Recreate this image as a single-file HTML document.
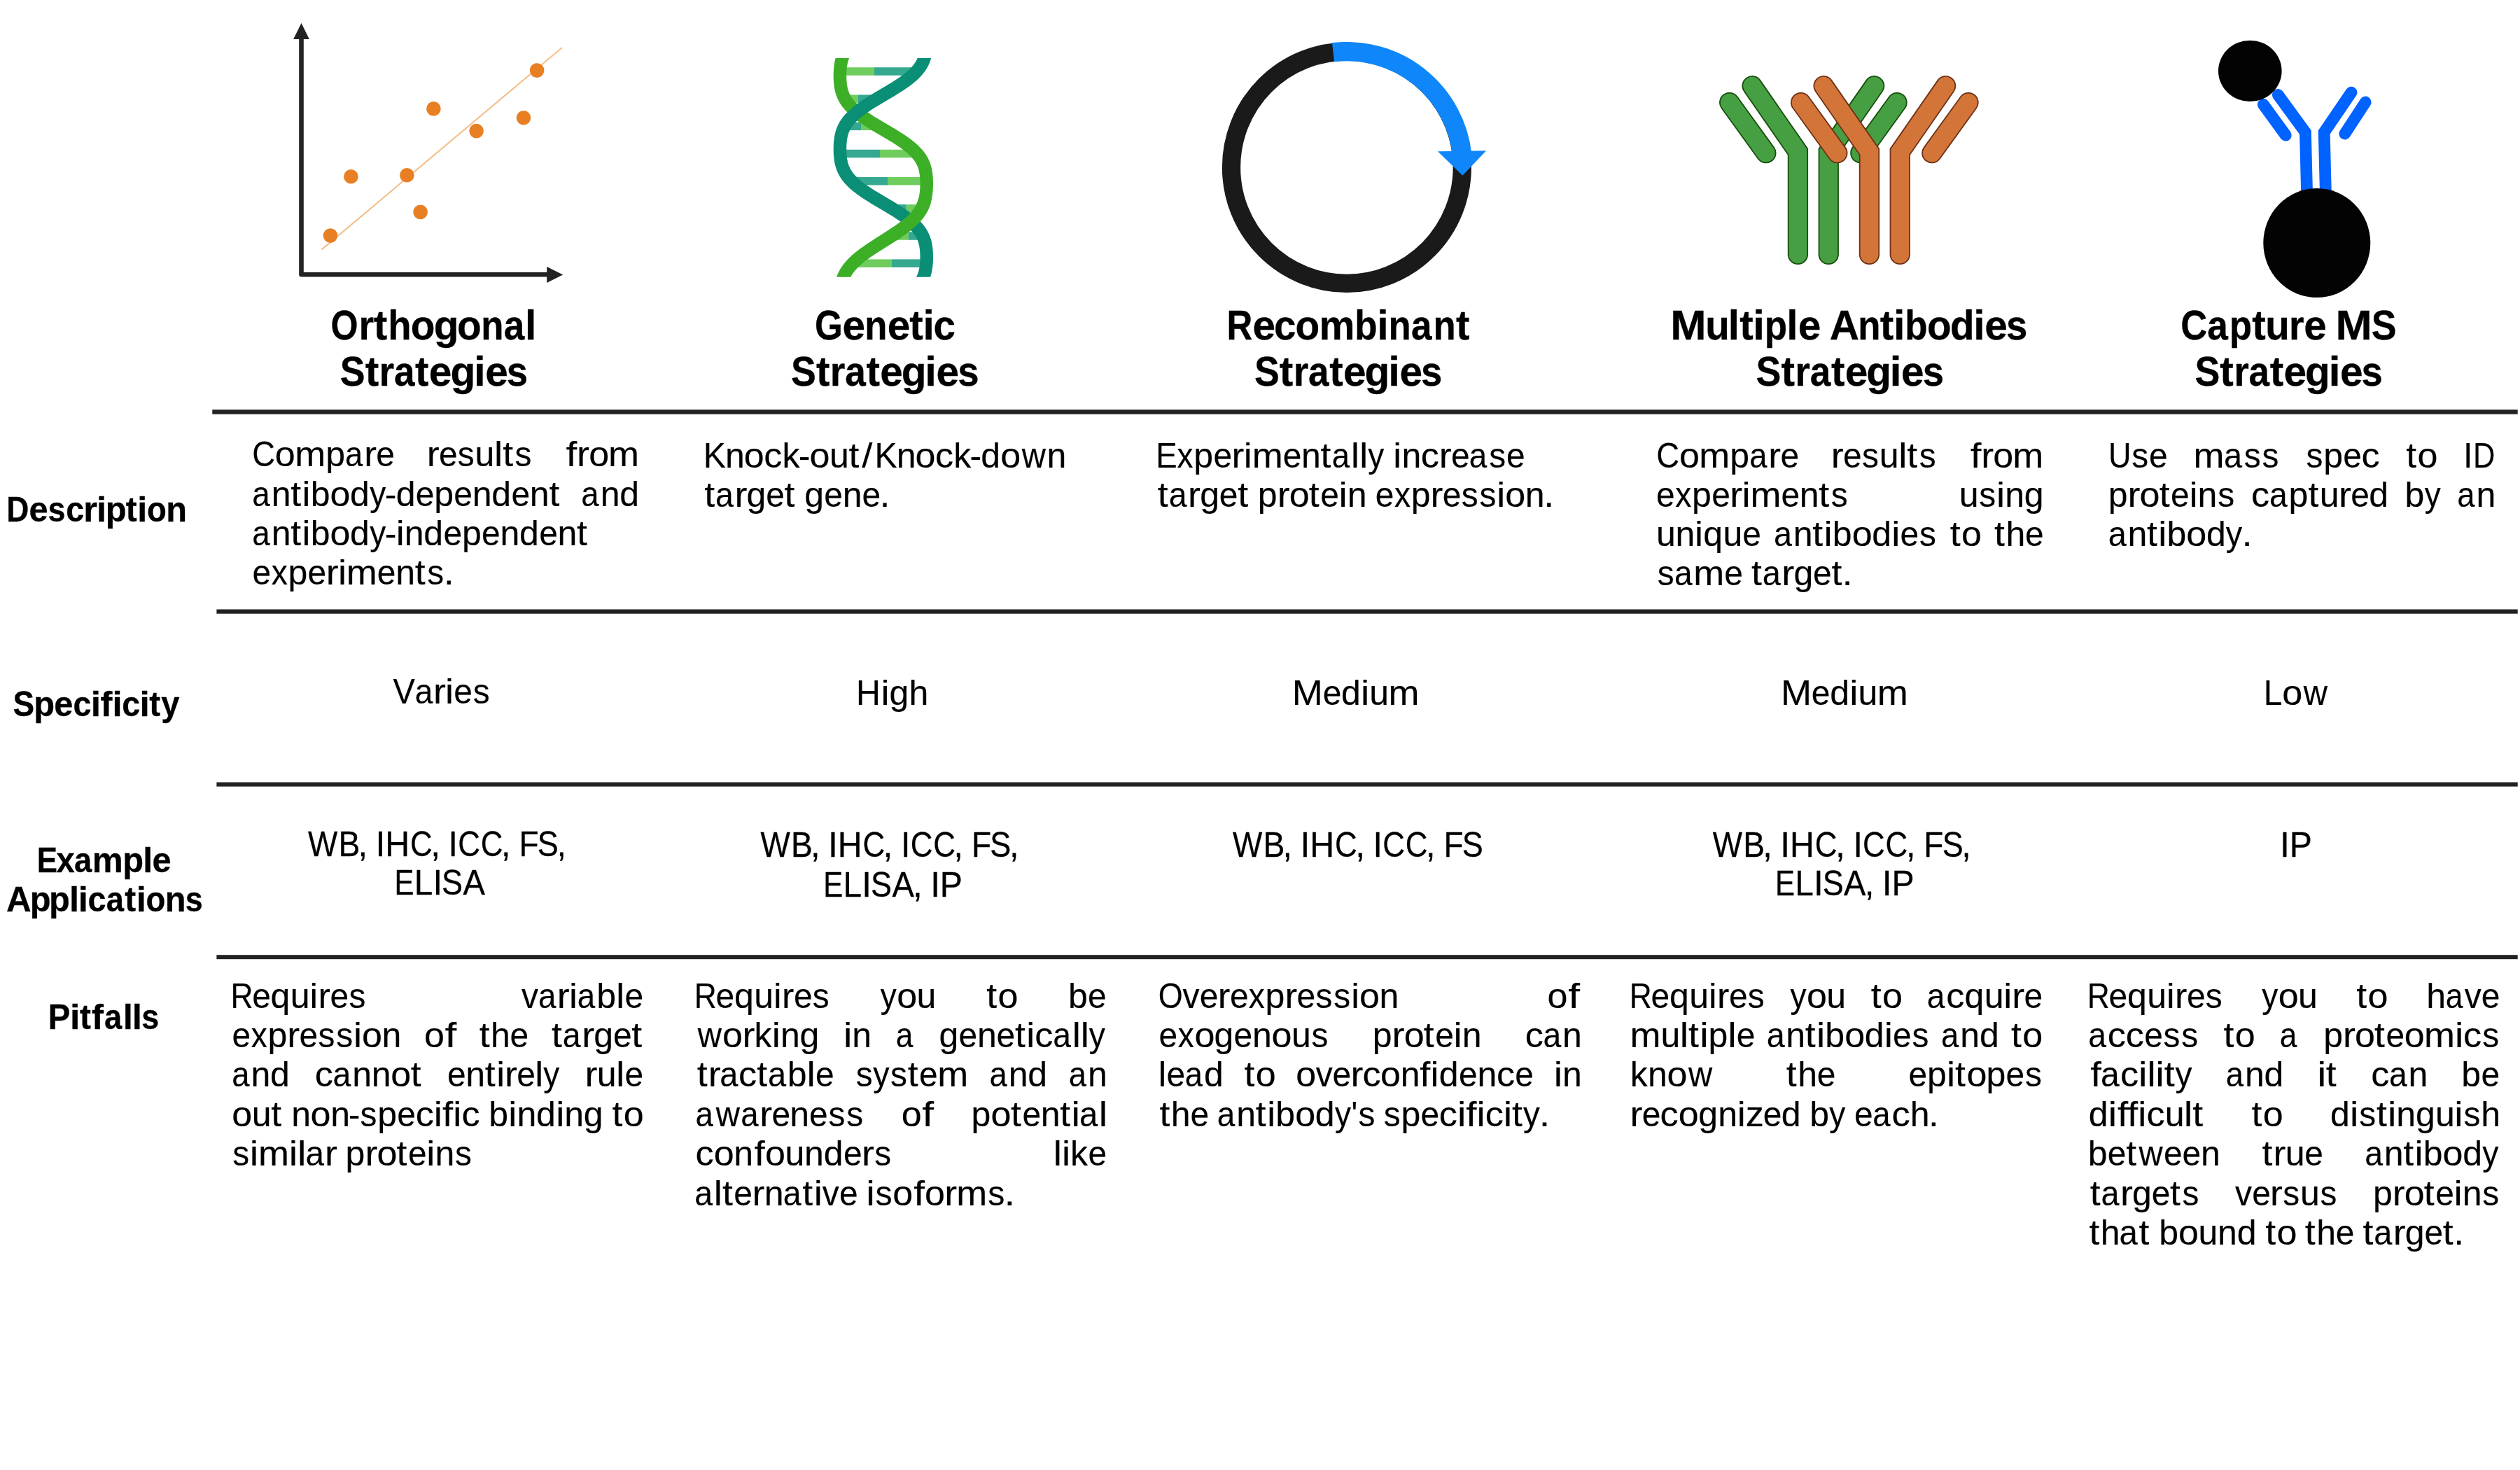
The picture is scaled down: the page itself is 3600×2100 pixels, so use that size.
<!DOCTYPE html>
<html><head><meta charset="utf-8"><title>Antibody validation strategies</title>
<style>
html,body{margin:0;padding:0;background:#fff;}
body{width:3600px;height:2100px;overflow:hidden;}
svg{display:block;will-change:transform;}
text{font-family:"Liberation Sans",sans-serif;fill:#000;}
text.b,text.h{font-weight:bold;}
text.h{stroke:#000;stroke-width:0.3px;}
text.b{stroke:#000;stroke-width:0.3px;}
text.r{stroke:#000;stroke-width:0.15px;}
text.u{stroke:#000;stroke-width:0.3px;}
</style></head>
<body>
<svg width="3600" height="2100" viewBox="0 0 3600 2100">
<rect width="3600" height="2100" fill="#fff"/>
<rect x="303.3" y="585.2" width="3293.4" height="6.5" fill="#222"/>
<rect x="309.4" y="870.5" width="3287.3" height="6.2" fill="#222"/>
<rect x="309.4" y="1117.5" width="3287.3" height="6.1" fill="#222"/>
<rect x="309.4" y="1364.2" width="3287.3" height="6.0" fill="#222"/>
<path d="M430.5,55 L430.5,392.2 L782,392.2" fill="none" stroke="#222" stroke-width="6.6" stroke-linejoin="round"/>
<polygon points="430.5,33 419.1,55.9 441.9,55.9" fill="#222"/>
<polygon points="804.2,392.4 781.2,381 781.2,403.9" fill="#222"/>
<line x1="459.4" y1="356.6" x2="802.9" y2="68" stroke="#F5BE8C" stroke-width="2.1"/>
<circle cx="472" cy="336.6" r="10.3" fill="#E88023"/>
<circle cx="501.4" cy="252.3" r="10.3" fill="#E88023"/>
<circle cx="581.4" cy="250.3" r="10.3" fill="#E88023"/>
<circle cx="600.6" cy="302.9" r="10.3" fill="#E88023"/>
<circle cx="619.4" cy="155.4" r="10.3" fill="#E88023"/>
<circle cx="680.6" cy="187.1" r="10.3" fill="#E88023"/>
<circle cx="748" cy="168.3" r="10.3" fill="#E88023"/>
<circle cx="767.1" cy="100.6" r="10.3" fill="#E88023"/>
<clipPath id="dc"><rect x="1150" y="83" width="220" height="312.8"/></clipPath>
<g clip-path="url(#dc)">
<rect x="1200.09" y="96.25" width="48.91" height="11.5" fill="#6FCD5E"/>
<rect x="1249.00" y="96.25" width="60.24" height="11.5" fill="#35A890"/>
<rect x="1207.01" y="135.42" width="18.49" height="11.5" fill="#6FCD5E"/>
<rect x="1225.50" y="135.42" width="27.20" height="11.5" fill="#35A890"/>
<rect x="1230.00" y="174.59" width="23.95" height="11.5" fill="#6FCD5E"/>
<rect x="1206.66" y="174.59" width="23.34" height="11.5" fill="#35A890"/>
<rect x="1257.00" y="213.76" width="53.01" height="11.5" fill="#6FCD5E"/>
<rect x="1200.12" y="213.76" width="56.88" height="11.5" fill="#35A890"/>
<rect x="1268.10" y="252.93" width="55.61" height="11.5" fill="#6FCD5E"/>
<rect x="1216.52" y="252.93" width="51.58" height="11.5" fill="#35A890"/>
<rect x="1294.70" y="292.10" width="21.83" height="11.5" fill="#6FCD5E"/>
<rect x="1274.61" y="292.10" width="20.09" height="11.5" fill="#35A890"/>
<rect x="1273.63" y="331.27" width="24.27" height="11.5" fill="#6FCD5E"/>
<rect x="1297.90" y="331.27" width="20.25" height="11.5" fill="#35A890"/>
<rect x="1218.44" y="370.44" width="55.56" height="11.5" fill="#6FCD5E"/>
<rect x="1274.00" y="370.44" width="49.44" height="11.5" fill="#35A890"/>
<path d="M1210.02,70.00 L1209.32,71.00 L1208.65,72.00 L1208.02,73.00 L1207.42,74.00 L1206.85,75.00 L1206.31,76.00 L1205.80,77.00 L1205.32,78.00 L1204.87,79.00 L1204.44,80.00 L1204.05,81.00 L1203.67,82.00 L1203.32,83.00 L1203.00,84.00 L1202.69,85.00 L1202.41,86.00 L1202.15,87.00 L1201.90,88.00 L1201.68,89.00 L1201.47,90.00 L1201.29,91.00 L1201.11,92.00 L1200.96,93.00 L1200.81,94.00 L1200.68,95.00 L1200.56,96.00 L1200.46,97.00 L1200.37,98.00 L1200.28,99.00 L1200.21,100.00 L1200.15,101.00 L1200.09,102.00 L1200.05,103.00 L1200.01,104.00 L1199.99,105.00 L1199.97,106.00 L1199.95,107.00 L1199.95,108.00 L1199.95,109.00 L1199.97,110.00 L1199.99,111.00 L1200.01,112.00 L1200.05,113.00 L1200.09,114.00 L1200.15,115.00 L1200.21,116.00 L1200.28,117.00 L1200.37,118.00 L1200.46,119.00 L1200.57,120.00 L1200.69,121.00 L1200.82,122.00 L1200.96,123.00 L1201.12,124.00 L1201.30,125.00 L1201.49,126.00 L1201.69,127.00 L1201.92,128.00 L1202.16,129.00 L1202.43,130.00 L1202.71,131.00 L1203.02,132.00 L1203.35,133.00 L1203.70,134.00 L1204.08,135.00 L1204.48,136.00 L1204.91,137.00 L1205.37,138.00 L1205.85,139.00 L1206.37,140.00 L1206.91,141.00 L1207.49,142.00 L1208.09,143.00 L1208.73,144.00 L1209.40,145.00 L1210.10,146.00 L1210.84,147.00 L1211.61,148.00 L1212.42,149.00 L1213.26,150.00 L1214.14,151.00 L1215.05,152.00 L1216.00,153.00 L1216.98,154.00 L1218.00,155.00 L1219.06,156.00 L1220.15,157.00 L1221.27,158.00 L1222.43,159.00 L1223.63,160.00 L1224.85,161.00 L1226.12,162.00 L1227.41,163.00 L1228.74,164.00 L1230.09,165.00 L1231.48,166.00 L1232.89,167.00 L1234.34,168.00 L1235.81,169.00 L1237.31,170.00 L1238.83,171.00 L1240.37,172.00 L1241.94,173.00 L1243.52,174.00 L1245.13,175.00 L1246.75,176.00 L1248.39,177.00 L1250.04,178.00 L1251.70,179.00 L1253.38,180.00 L1255.06,181.00 L1256.75,182.00 L1258.45,183.00 L1260.15,184.00 L1261.85,185.00 L1263.55,186.00 L1265.25,187.00 L1266.95,188.00 L1268.64,189.00 L1270.32,190.00 L1272.00,191.00 L1273.66,192.00 L1275.31,193.00 L1276.95,194.00 L1278.57,195.00 L1280.18,196.00 L1281.76,197.00 L1283.33,198.00 L1284.87,199.00 L1286.39,200.00 L1287.89,201.00 L1289.36,202.00 L1290.81,203.00 L1292.22,204.00 L1293.61,205.00 L1294.96,206.00 L1296.29,207.00 L1297.58,208.00 L1298.85,209.00 L1300.07,210.00 L1301.27,211.00 L1302.43,212.00 L1303.55,213.00 L1304.64,214.00 L1305.70,215.00 L1306.72,216.00 L1307.70,217.00 L1308.65,218.00 L1309.56,219.00 L1310.44,220.00 L1311.28,221.00 L1312.09,222.00 L1312.86,223.00 L1313.60,224.00 L1314.30,225.00 L1314.97,226.00 L1315.61,227.00 L1316.21,228.00 L1316.79,229.00 L1317.33,230.00 L1317.85,231.00 L1318.33,232.00 L1318.79,233.00 L1319.22,234.00 L1319.62,235.00 L1320.00,236.00 L1320.35,237.00 L1320.68,238.00 L1320.99,239.00 L1321.27,240.00 L1321.54,241.00 L1321.78,242.00 L1322.01,243.00 L1322.21,244.00 L1322.40,245.00 L1322.58,246.00 L1322.74,247.00 L1322.88,248.00 L1323.01,249.00 L1323.13,250.00 L1323.24,251.00 L1323.33,252.00 L1323.42,253.00 L1323.49,254.00 L1323.55,255.00 L1323.61,256.00 L1323.65,257.00 L1323.69,258.00 L1323.71,259.00 L1323.73,260.00 L1323.75,261.00 L1323.75,262.00 L1323.75,263.00 L1323.74,264.00 L1323.72,265.00 L1323.69,266.00 L1323.66,267.00 L1323.62,268.00 L1323.58,269.00 L1323.52,270.00 L1323.46,271.00 L1323.39,272.00 L1323.31,273.00 L1323.22,274.00 L1323.12,275.00 L1323.01,276.00 L1322.88,277.00 L1322.75,278.00 L1322.60,279.00 L1322.44,280.00 L1322.27,281.00 L1322.08,282.00 L1321.87,283.00 L1321.65,284.00 L1321.42,285.00 L1321.16,286.00 L1320.89,287.00 L1320.59,288.00 L1320.28,289.00 L1319.95,290.00 L1319.59,291.00 L1319.22,292.00 L1318.82,293.00 L1318.39,294.00 L1317.95,295.00 L1317.47,296.00 L1316.97,297.00 L1316.45,298.00 L1315.90,299.00 L1315.32,300.00 L1314.71,301.00 L1314.07,302.00 L1313.40,303.00 L1312.71,304.00 L1311.98,305.00 L1311.23,306.00 L1310.44,307.00 L1309.62,308.00 L1308.77,309.00 L1307.89,310.00 L1306.98,311.00 L1306.04,312.00 L1305.07,313.00 L1304.07,314.00 L1303.03,315.00 L1301.97,316.00 L1300.87,317.00 L1299.75,318.00 L1298.60,319.00 L1297.41,320.00 L1296.20,321.00 L1294.96,322.00 L1293.70,323.00 L1292.41,324.00 L1291.09,325.00 L1289.75,326.00 L1288.38,327.00 L1287.00,328.00 L1285.59,329.00 L1284.16,330.00 L1282.71,331.00 L1281.24,332.00 L1279.75,333.00 L1278.25,334.00 L1276.73,335.00 L1275.20,336.00 L1273.66,337.00 L1272.11,338.00 L1270.55,339.00 L1268.98,340.00 L1267.40,341.00 L1265.82,342.00 L1264.23,343.00 L1262.64,344.00 L1261.06,345.00 L1259.47,346.00 L1257.88,347.00 L1256.30,348.00 L1254.72,349.00 L1253.15,350.00 L1251.59,351.00 L1250.04,352.00 L1248.50,353.00 L1246.97,354.00 L1245.45,355.00 L1243.95,356.00 L1242.46,357.00 L1240.99,358.00 L1239.54,359.00 L1238.11,360.00 L1236.70,361.00 L1235.32,362.00 L1233.95,363.00 L1232.61,364.00 L1231.29,365.00 L1230.00,366.00 L1228.74,367.00 L1227.50,368.00 L1226.29,369.00 L1225.10,370.00 L1223.95,371.00 L1222.83,372.00 L1221.73,373.00 L1220.67,374.00 L1219.63,375.00 L1218.63,376.00 L1217.66,377.00 L1216.72,378.00 L1215.81,379.00 L1214.93,380.00 L1214.08,381.00 L1213.26,382.00 L1212.47,383.00 L1211.72,384.00 L1210.99,385.00 L1210.30,386.00 L1209.63,387.00 L1208.99,388.00 L1208.38,389.00 L1207.80,390.00 L1207.25,391.00 L1206.73,392.00 L1206.23,393.00 L1205.75,394.00 L1205.31,395.00 L1204.88,396.00 L1204.48,397.00 L1204.11,398.00 L1203.75,399.00 L1203.42,400.00 L1203.11,401.00 L1202.81,402.00 L1202.54,403.00 L1202.28,404.00 L1202.05,405.00 L1201.83,406.00 L1201.62,407.00 L1201.43,408.00 L1201.26,409.00 L1201.10,410.00" fill="none" stroke="#3CAF27" stroke-width="18.5"/>
<path d="M1323.19,70.00 L1323.08,71.00 L1322.96,72.00 L1322.82,73.00 L1322.67,74.00 L1322.50,75.00 L1322.32,76.00 L1322.12,77.00 L1321.91,78.00 L1321.68,79.00 L1321.42,80.00 L1321.15,81.00 L1320.86,82.00 L1320.54,83.00 L1320.21,84.00 L1319.84,85.00 L1319.46,86.00 L1319.05,87.00 L1318.61,88.00 L1318.14,89.00 L1317.65,90.00 L1317.12,91.00 L1316.57,92.00 L1315.98,93.00 L1315.37,94.00 L1314.72,95.00 L1314.04,96.00 L1313.32,97.00 L1312.58,98.00 L1311.79,99.00 L1310.98,100.00 L1310.13,101.00 L1309.24,102.00 L1308.32,103.00 L1307.36,104.00 L1306.37,105.00 L1305.34,106.00 L1304.27,107.00 L1303.18,108.00 L1302.04,109.00 L1300.87,110.00 L1299.67,111.00 L1298.44,112.00 L1297.17,113.00 L1295.87,114.00 L1294.54,115.00 L1293.18,116.00 L1291.78,117.00 L1290.36,118.00 L1288.92,119.00 L1287.44,120.00 L1285.94,121.00 L1284.42,122.00 L1282.88,123.00 L1281.31,124.00 L1279.72,125.00 L1278.12,126.00 L1276.50,127.00 L1274.86,128.00 L1273.21,129.00 L1271.55,130.00 L1269.88,131.00 L1268.20,132.00 L1266.51,133.00 L1264.82,134.00 L1263.12,135.00 L1261.43,136.00 L1259.73,137.00 L1258.04,138.00 L1256.35,139.00 L1254.66,140.00 L1252.99,141.00 L1251.32,142.00 L1249.66,143.00 L1248.02,144.00 L1246.39,145.00 L1244.78,146.00 L1243.18,147.00 L1241.61,148.00 L1240.05,149.00 L1238.51,150.00 L1237.00,151.00 L1235.52,152.00 L1234.06,153.00 L1232.62,154.00 L1231.22,155.00 L1229.84,156.00 L1228.49,157.00 L1227.18,158.00 L1225.89,159.00 L1224.64,160.00 L1223.42,161.00 L1222.24,162.00 L1221.09,163.00 L1219.97,164.00 L1218.89,165.00 L1217.84,166.00 L1216.83,167.00 L1215.86,168.00 L1214.92,169.00 L1214.01,170.00 L1213.14,171.00 L1212.31,172.00 L1211.51,173.00 L1210.75,174.00 L1210.02,175.00 L1209.32,176.00 L1208.65,177.00 L1208.02,178.00 L1207.42,179.00 L1206.85,180.00 L1206.31,181.00 L1205.80,182.00 L1205.32,183.00 L1204.87,184.00 L1204.44,185.00 L1204.05,186.00 L1203.67,187.00 L1203.32,188.00 L1203.00,189.00 L1202.69,190.00 L1202.41,191.00 L1202.15,192.00 L1201.90,193.00 L1201.68,194.00 L1201.47,195.00 L1201.29,196.00 L1201.11,197.00 L1200.96,198.00 L1200.81,199.00 L1200.68,200.00 L1200.56,201.00 L1200.46,202.00 L1200.37,203.00 L1200.28,204.00 L1200.21,205.00 L1200.15,206.00 L1200.09,207.00 L1200.05,208.00 L1200.01,209.00 L1199.99,210.00 L1199.97,211.00 L1199.95,212.00 L1199.95,213.00 L1199.95,214.00 L1199.97,215.00 L1199.99,216.00 L1200.01,217.00 L1200.05,218.00 L1200.09,219.00 L1200.15,220.00 L1200.21,221.00 L1200.28,222.00 L1200.37,223.00 L1200.46,224.00 L1200.56,225.00 L1200.68,226.00 L1200.81,227.00 L1200.96,228.00 L1201.11,229.00 L1201.29,230.00 L1201.47,231.00 L1201.68,232.00 L1201.90,233.00 L1202.15,234.00 L1202.41,235.00 L1202.69,236.00 L1203.00,237.00 L1203.32,238.00 L1203.67,239.00 L1204.05,240.00 L1204.44,241.00 L1204.87,242.00 L1205.32,243.00 L1205.80,244.00 L1206.31,245.00 L1206.85,246.00 L1207.42,247.00 L1208.02,248.00 L1208.65,249.00 L1209.32,250.00 L1210.02,251.00 L1210.75,252.00 L1211.51,253.00 L1212.31,254.00 L1213.14,255.00 L1214.01,256.00 L1214.92,257.00 L1215.86,258.00 L1216.83,259.00 L1217.84,260.00 L1218.89,261.00 L1219.97,262.00 L1221.09,263.00 L1222.24,264.00 L1223.42,265.00 L1224.64,266.00 L1225.89,267.00 L1227.18,268.00 L1228.49,269.00 L1229.84,270.00 L1231.22,271.00 L1232.62,272.00 L1234.06,273.00 L1235.52,274.00 L1237.00,275.00 L1238.51,276.00 L1240.05,277.00 L1241.61,278.00 L1243.18,279.00 L1244.78,280.00 L1246.39,281.00 L1248.02,282.00 L1249.66,283.00 L1251.32,284.00 L1252.99,285.00 L1254.66,286.00 L1256.35,287.00 L1258.04,288.00 L1259.73,289.00 L1261.43,290.00 L1263.12,291.00 L1264.82,292.00 L1266.51,293.00 L1268.20,294.00 L1269.88,295.00 L1271.55,296.00 L1273.21,297.00 L1274.86,298.00 L1276.50,299.00 L1278.12,300.00 L1279.72,301.00 L1281.31,302.00 L1282.88,303.00 L1284.42,304.00 L1285.94,305.00 L1287.44,306.00 L1288.92,307.00 L1290.36,308.00 L1291.78,309.00 L1293.18,310.00 L1294.54,311.00 L1295.87,312.00 L1297.17,313.00 L1298.44,314.00 L1299.67,315.00 L1300.87,316.00 L1302.04,317.00 L1303.18,318.00 L1304.27,319.00 L1305.34,320.00 L1306.37,321.00 L1307.36,322.00 L1308.32,323.00 L1309.24,324.00 L1310.13,325.00 L1310.98,326.00 L1311.79,327.00 L1312.58,328.00 L1313.32,329.00 L1314.04,330.00 L1314.72,331.00 L1315.37,332.00 L1315.98,333.00 L1316.57,334.00 L1317.12,335.00 L1317.65,336.00 L1318.14,337.00 L1318.61,338.00 L1319.05,339.00 L1319.46,340.00 L1319.84,341.00 L1320.21,342.00 L1320.54,343.00 L1320.86,344.00 L1321.15,345.00 L1321.42,346.00 L1321.68,347.00 L1321.91,348.00 L1322.12,349.00 L1322.32,350.00 L1322.50,351.00 L1322.67,352.00 L1322.82,353.00 L1322.96,354.00 L1323.08,355.00 L1323.19,356.00 L1323.29,357.00 L1323.38,358.00 L1323.46,359.00 L1323.52,360.00 L1323.58,361.00 L1323.63,362.00 L1323.67,363.00 L1323.70,364.00 L1323.73,365.00 L1323.74,366.00 L1323.75,367.00 L1323.75,368.00 L1323.74,369.00 L1323.73,370.00 L1323.70,371.00 L1323.67,372.00 L1323.63,373.00 L1323.58,374.00 L1323.52,375.00 L1323.46,376.00 L1323.38,377.00 L1323.29,378.00 L1323.19,379.00 L1323.08,380.00 L1322.96,381.00 L1322.82,382.00 L1322.67,383.00 L1322.50,384.00 L1322.32,385.00 L1322.12,386.00 L1321.91,387.00 L1321.68,388.00 L1321.42,389.00 L1321.15,390.00 L1320.86,391.00 L1320.54,392.00 L1320.21,393.00 L1319.84,394.00 L1319.46,395.00 L1319.05,396.00 L1318.61,397.00 L1318.14,398.00 L1317.65,399.00 L1317.12,400.00 L1316.57,401.00 L1315.98,402.00 L1315.37,403.00 L1314.72,404.00 L1314.04,405.00 L1313.32,406.00 L1312.58,407.00 L1311.79,408.00 L1310.98,409.00 L1310.13,410.00" fill="none" stroke="#0A8E75" stroke-width="18.5"/>
<path d="M1321.42,285.00 L1321.16,286.00 L1320.89,287.00 L1320.59,288.00 L1320.28,289.00 L1319.95,290.00 L1319.59,291.00 L1319.22,292.00 L1318.82,293.00 L1318.39,294.00 L1317.95,295.00 L1317.47,296.00 L1316.97,297.00 L1316.45,298.00 L1315.90,299.00 L1315.32,300.00 L1314.71,301.00 L1314.07,302.00 L1313.40,303.00 L1312.71,304.00 L1311.98,305.00 L1311.23,306.00 L1310.44,307.00 L1309.62,308.00 L1308.77,309.00 L1307.89,310.00 L1306.98,311.00 L1306.04,312.00 L1305.07,313.00 L1304.07,314.00 L1303.03,315.00 L1301.97,316.00 L1300.87,317.00 L1299.75,318.00 L1298.60,319.00 L1297.41,320.00 L1296.20,321.00 L1294.96,322.00 L1293.70,323.00 L1292.41,324.00 L1291.09,325.00 L1289.75,326.00 L1288.38,327.00 L1287.00,328.00 L1285.59,329.00 L1284.16,330.00 L1282.71,331.00 L1281.24,332.00 L1279.75,333.00 L1278.25,334.00 L1276.73,335.00 L1275.20,336.00 L1273.66,337.00 L1272.11,338.00 L1270.55,339.00 L1268.98,340.00 L1267.40,341.00 L1265.82,342.00 L1264.23,343.00 L1262.64,344.00 L1261.06,345.00 L1259.47,346.00 L1257.88,347.00 L1256.30,348.00 L1254.72,349.00 L1253.15,350.00" fill="none" stroke="#3CAF27" stroke-width="18.5"/>
</g>
<ellipse cx="1923.9" cy="239.2" rx="164.9" ry="165.6" fill="none" stroke="#1A1A1A" stroke-width="26.3"/>
<path d="M1904.56,74.73 A165.80,165.6 0 0 1 2088.79,221.89" fill="none" stroke="#0F87FA" stroke-width="27.4"/>
<polygon points="2053.9,216.2 2123.2,215.3 2089.4,250.7" fill="#0F87FA"/>
<path d="M2568.45,363.4 L2568.45,216.9 L2503.10,122.7" fill="none" stroke="#174F0C" stroke-width="29.3" stroke-linecap="round" stroke-linejoin="miter"/>
<path d="M2568.45,363.4 L2568.45,216.9 L2503.10,122.7" fill="none" stroke="#46A043" stroke-width="25.7" stroke-linecap="round" stroke-linejoin="miter"/>
<path d="M2612.25,363.4 L2612.25,216.9 L2677.60,122.7" fill="none" stroke="#174F0C" stroke-width="29.3" stroke-linecap="round" stroke-linejoin="miter"/>
<path d="M2612.25,363.4 L2612.25,216.9 L2677.60,122.7" fill="none" stroke="#46A043" stroke-width="25.7" stroke-linecap="round" stroke-linejoin="miter"/>
<path d="M2470.70,146.5 L2522.85,218.7" fill="none" stroke="#174F0C" stroke-width="29.3" stroke-linecap="round" stroke-linejoin="miter"/>
<path d="M2470.70,146.5 L2522.85,218.7" fill="none" stroke="#46A043" stroke-width="25.7" stroke-linecap="round" stroke-linejoin="miter"/>
<path d="M2710.00,146.5 L2657.85,218.7" fill="none" stroke="#174F0C" stroke-width="29.3" stroke-linecap="round" stroke-linejoin="miter"/>
<path d="M2710.00,146.5 L2657.85,218.7" fill="none" stroke="#46A043" stroke-width="25.7" stroke-linecap="round" stroke-linejoin="miter"/>
<path d="M2670.45,363.4 L2670.45,216.9 L2605.10,122.7" fill="none" stroke="#6E3218" stroke-width="29.3" stroke-linecap="round" stroke-linejoin="miter"/>
<path d="M2670.45,363.4 L2670.45,216.9 L2605.10,122.7" fill="none" stroke="#D37539" stroke-width="25.7" stroke-linecap="round" stroke-linejoin="miter"/>
<path d="M2714.25,363.4 L2714.25,216.9 L2779.60,122.7" fill="none" stroke="#6E3218" stroke-width="29.3" stroke-linecap="round" stroke-linejoin="miter"/>
<path d="M2714.25,363.4 L2714.25,216.9 L2779.60,122.7" fill="none" stroke="#D37539" stroke-width="25.7" stroke-linecap="round" stroke-linejoin="miter"/>
<path d="M2572.70,146.5 L2624.85,218.7" fill="none" stroke="#6E3218" stroke-width="29.3" stroke-linecap="round" stroke-linejoin="miter"/>
<path d="M2572.70,146.5 L2624.85,218.7" fill="none" stroke="#D37539" stroke-width="25.7" stroke-linecap="round" stroke-linejoin="miter"/>
<path d="M2812.00,146.5 L2759.85,218.7" fill="none" stroke="#6E3218" stroke-width="29.3" stroke-linecap="round" stroke-linejoin="miter"/>
<path d="M2812.00,146.5 L2759.85,218.7" fill="none" stroke="#D37539" stroke-width="25.7" stroke-linecap="round" stroke-linejoin="miter"/>
<path d="M3296.2,300 L3293.4,189 L3254.3,135.5" fill="none" stroke="#0062FF" stroke-width="16.8" stroke-linecap="round" stroke-linejoin="miter"/>
<path d="M3323,300 L3320.2,189 L3359,132.1" fill="none" stroke="#0062FF" stroke-width="16.8" stroke-linecap="round" stroke-linejoin="miter"/>
<path d="M3233.3,149.2 L3265.3,193.2" fill="none" stroke="#0062FF" stroke-width="16.8" stroke-linecap="round"/>
<path d="M3379.2,146 L3349.8,191" fill="none" stroke="#0062FF" stroke-width="16.8" stroke-linecap="round"/>
<ellipse cx="3214.3" cy="101.4" rx="45.3" ry="43.6" fill="#030303"/>
<ellipse cx="3309.8" cy="347.1" rx="76.5" ry="78" fill="#030303"/>
<text class="h" y="484.90" style="font-size:58.6px"><tspan x="472.49" textLength="39.07" lengthAdjust="spacingAndGlyphs">O</tspan><tspan x="512.62" textLength="21.60" lengthAdjust="spacingAndGlyphs">r</tspan><tspan x="533.84" textLength="19.51" lengthAdjust="spacingAndGlyphs">t</tspan><tspan x="554.30" textLength="33.32" lengthAdjust="spacingAndGlyphs">h</tspan><tspan x="586.79" textLength="34.67" lengthAdjust="spacingAndGlyphs">o</tspan><tspan x="619.69" textLength="35.79" lengthAdjust="spacingAndGlyphs">g</tspan><tspan x="653.11" textLength="34.67" lengthAdjust="spacingAndGlyphs">o</tspan><tspan x="687.30" textLength="32.21" lengthAdjust="spacingAndGlyphs">n</tspan><tspan x="719.83" textLength="29.53" lengthAdjust="spacingAndGlyphs">a</tspan><tspan x="749.98" textLength="16.28" lengthAdjust="spacingAndGlyphs">l</tspan></text>
<text class="h" y="550.60" style="font-size:58.6px"><tspan x="485.78" textLength="35.82" lengthAdjust="spacingAndGlyphs">S</tspan><tspan x="521.65" textLength="19.51" lengthAdjust="spacingAndGlyphs">t</tspan><tspan x="541.57" textLength="21.60" lengthAdjust="spacingAndGlyphs">r</tspan><tspan x="562.89" textLength="29.53" lengthAdjust="spacingAndGlyphs">a</tspan><tspan x="593.09" textLength="19.51" lengthAdjust="spacingAndGlyphs">t</tspan><tspan x="612.85" textLength="32.59" lengthAdjust="spacingAndGlyphs">e</tspan><tspan x="643.39" textLength="35.79" lengthAdjust="spacingAndGlyphs">g</tspan><tspan x="677.04" textLength="16.66" lengthAdjust="spacingAndGlyphs">i</tspan><tspan x="693.20" textLength="32.59" lengthAdjust="spacingAndGlyphs">e</tspan><tspan x="723.87" textLength="30.34" lengthAdjust="spacingAndGlyphs">s</tspan></text>
<text class="h" y="484.90" style="font-size:58.6px"><tspan x="1163.95" textLength="39.88" lengthAdjust="spacingAndGlyphs">G</tspan><tspan x="1203.50" textLength="32.59" lengthAdjust="spacingAndGlyphs">e</tspan><tspan x="1235.33" textLength="32.21" lengthAdjust="spacingAndGlyphs">n</tspan><tspan x="1267.77" textLength="32.59" lengthAdjust="spacingAndGlyphs">e</tspan><tspan x="1299.30" textLength="19.51" lengthAdjust="spacingAndGlyphs">t</tspan><tspan x="1318.46" textLength="16.46" lengthAdjust="spacingAndGlyphs">i</tspan><tspan x="1333.58" textLength="31.46" lengthAdjust="spacingAndGlyphs">c</tspan></text>
<text class="h" y="550.60" style="font-size:58.6px"><tspan x="1130.08" textLength="35.82" lengthAdjust="spacingAndGlyphs">S</tspan><tspan x="1165.95" textLength="19.51" lengthAdjust="spacingAndGlyphs">t</tspan><tspan x="1185.87" textLength="21.60" lengthAdjust="spacingAndGlyphs">r</tspan><tspan x="1207.19" textLength="29.53" lengthAdjust="spacingAndGlyphs">a</tspan><tspan x="1237.39" textLength="19.51" lengthAdjust="spacingAndGlyphs">t</tspan><tspan x="1257.15" textLength="32.59" lengthAdjust="spacingAndGlyphs">e</tspan><tspan x="1287.69" textLength="35.79" lengthAdjust="spacingAndGlyphs">g</tspan><tspan x="1321.34" textLength="16.66" lengthAdjust="spacingAndGlyphs">i</tspan><tspan x="1337.50" textLength="32.59" lengthAdjust="spacingAndGlyphs">e</tspan><tspan x="1368.17" textLength="30.34" lengthAdjust="spacingAndGlyphs">s</tspan></text>
<text class="h" y="484.90" style="font-size:58.6px"><tspan x="1752.48" textLength="36.89" lengthAdjust="spacingAndGlyphs">R</tspan><tspan x="1789.51" textLength="32.59" lengthAdjust="spacingAndGlyphs">e</tspan><tspan x="1820.11" textLength="31.46" lengthAdjust="spacingAndGlyphs">c</tspan><tspan x="1850.52" textLength="34.67" lengthAdjust="spacingAndGlyphs">o</tspan><tspan x="1884.48" textLength="50.97" lengthAdjust="spacingAndGlyphs">m</tspan><tspan x="1935.29" textLength="32.33" lengthAdjust="spacingAndGlyphs">b</tspan><tspan x="1967.26" textLength="16.45" lengthAdjust="spacingAndGlyphs">i</tspan><tspan x="1983.60" textLength="32.21" lengthAdjust="spacingAndGlyphs">n</tspan><tspan x="2016.12" textLength="29.53" lengthAdjust="spacingAndGlyphs">a</tspan><tspan x="2047.57" textLength="32.21" lengthAdjust="spacingAndGlyphs">n</tspan><tspan x="2080.01" textLength="19.51" lengthAdjust="spacingAndGlyphs">t</tspan></text>
<text class="h" y="550.60" style="font-size:58.6px"><tspan x="1791.98" textLength="35.82" lengthAdjust="spacingAndGlyphs">S</tspan><tspan x="1827.85" textLength="19.51" lengthAdjust="spacingAndGlyphs">t</tspan><tspan x="1847.77" textLength="21.60" lengthAdjust="spacingAndGlyphs">r</tspan><tspan x="1869.09" textLength="29.53" lengthAdjust="spacingAndGlyphs">a</tspan><tspan x="1899.29" textLength="19.51" lengthAdjust="spacingAndGlyphs">t</tspan><tspan x="1919.05" textLength="32.59" lengthAdjust="spacingAndGlyphs">e</tspan><tspan x="1949.59" textLength="35.79" lengthAdjust="spacingAndGlyphs">g</tspan><tspan x="1983.24" textLength="16.66" lengthAdjust="spacingAndGlyphs">i</tspan><tspan x="1999.40" textLength="32.59" lengthAdjust="spacingAndGlyphs">e</tspan><tspan x="2030.07" textLength="30.34" lengthAdjust="spacingAndGlyphs">s</tspan></text>
<text class="h" y="484.90" style="font-size:58.6px"><tspan x="2386.29" textLength="51.26" lengthAdjust="spacingAndGlyphs">M</tspan><tspan x="2436.22" textLength="34.56" lengthAdjust="spacingAndGlyphs">u</tspan><tspan x="2468.82" textLength="16.28" lengthAdjust="spacingAndGlyphs">l</tspan><tspan x="2485.28" textLength="19.51" lengthAdjust="spacingAndGlyphs">t</tspan><tspan x="2504.11" textLength="17.10" lengthAdjust="spacingAndGlyphs">i</tspan><tspan x="2520.78" textLength="32.33" lengthAdjust="spacingAndGlyphs">p</tspan><tspan x="2552.33" textLength="16.28" lengthAdjust="spacingAndGlyphs">l</tspan><tspan x="2568.78" textLength="32.59" lengthAdjust="spacingAndGlyphs">e</tspan> <tspan x="2613.83" textLength="42.31" lengthAdjust="spacingAndGlyphs">A</tspan><tspan x="2654.36" textLength="32.21" lengthAdjust="spacingAndGlyphs">n</tspan><tspan x="2685.86" textLength="19.51" lengthAdjust="spacingAndGlyphs">t</tspan><tspan x="2705.06" textLength="16.40" lengthAdjust="spacingAndGlyphs">i</tspan><tspan x="2721.37" textLength="32.33" lengthAdjust="spacingAndGlyphs">b</tspan><tspan x="2752.98" textLength="34.67" lengthAdjust="spacingAndGlyphs">o</tspan><tspan x="2785.95" textLength="34.60" lengthAdjust="spacingAndGlyphs">d</tspan><tspan x="2819.19" textLength="16.40" lengthAdjust="spacingAndGlyphs">i</tspan><tspan x="2835.20" textLength="32.59" lengthAdjust="spacingAndGlyphs">e</tspan><tspan x="2865.88" textLength="30.34" lengthAdjust="spacingAndGlyphs">s</tspan></text>
<text class="h" y="550.60" style="font-size:58.6px"><tspan x="2508.58" textLength="35.82" lengthAdjust="spacingAndGlyphs">S</tspan><tspan x="2544.45" textLength="19.51" lengthAdjust="spacingAndGlyphs">t</tspan><tspan x="2564.37" textLength="21.60" lengthAdjust="spacingAndGlyphs">r</tspan><tspan x="2585.69" textLength="29.53" lengthAdjust="spacingAndGlyphs">a</tspan><tspan x="2615.89" textLength="19.51" lengthAdjust="spacingAndGlyphs">t</tspan><tspan x="2635.65" textLength="32.59" lengthAdjust="spacingAndGlyphs">e</tspan><tspan x="2666.19" textLength="35.79" lengthAdjust="spacingAndGlyphs">g</tspan><tspan x="2699.84" textLength="16.66" lengthAdjust="spacingAndGlyphs">i</tspan><tspan x="2716.00" textLength="32.59" lengthAdjust="spacingAndGlyphs">e</tspan><tspan x="2746.67" textLength="30.34" lengthAdjust="spacingAndGlyphs">s</tspan></text>
<text class="h" y="484.90" style="font-size:58.6px"><tspan x="3115.21" textLength="37.97" lengthAdjust="spacingAndGlyphs">C</tspan><tspan x="3153.30" textLength="29.53" lengthAdjust="spacingAndGlyphs">a</tspan><tspan x="3184.74" textLength="32.33" lengthAdjust="spacingAndGlyphs">p</tspan><tspan x="3217.30" textLength="19.51" lengthAdjust="spacingAndGlyphs">t</tspan><tspan x="3236.16" textLength="34.56" lengthAdjust="spacingAndGlyphs">u</tspan><tspan x="3269.92" textLength="21.60" lengthAdjust="spacingAndGlyphs">r</tspan><tspan x="3291.14" textLength="32.59" lengthAdjust="spacingAndGlyphs">e</tspan> <tspan x="3336.44" textLength="52.28" lengthAdjust="spacingAndGlyphs">M</tspan><tspan x="3387.85" textLength="35.82" lengthAdjust="spacingAndGlyphs">S</tspan></text>
<text class="h" y="550.60" style="font-size:58.6px"><tspan x="3135.48" textLength="35.82" lengthAdjust="spacingAndGlyphs">S</tspan><tspan x="3171.35" textLength="19.51" lengthAdjust="spacingAndGlyphs">t</tspan><tspan x="3191.27" textLength="21.60" lengthAdjust="spacingAndGlyphs">r</tspan><tspan x="3212.59" textLength="29.53" lengthAdjust="spacingAndGlyphs">a</tspan><tspan x="3242.79" textLength="19.51" lengthAdjust="spacingAndGlyphs">t</tspan><tspan x="3262.55" textLength="32.59" lengthAdjust="spacingAndGlyphs">e</tspan><tspan x="3293.09" textLength="35.79" lengthAdjust="spacingAndGlyphs">g</tspan><tspan x="3326.74" textLength="16.66" lengthAdjust="spacingAndGlyphs">i</tspan><tspan x="3342.90" textLength="32.59" lengthAdjust="spacingAndGlyphs">e</tspan><tspan x="3373.57" textLength="30.34" lengthAdjust="spacingAndGlyphs">s</tspan></text>
<text class="b" y="744.80" style="font-size:50.8px"><tspan x="9.27" textLength="32.10" lengthAdjust="spacingAndGlyphs">D</tspan><tspan x="41.43" textLength="27.16" lengthAdjust="spacingAndGlyphs">e</tspan><tspan x="68.51" textLength="24.99" lengthAdjust="spacingAndGlyphs">s</tspan><tspan x="94.16" textLength="26.08" lengthAdjust="spacingAndGlyphs">c</tspan><tspan x="119.17" textLength="19.70" lengthAdjust="spacingAndGlyphs">r</tspan><tspan x="137.97" textLength="14.06" lengthAdjust="spacingAndGlyphs">i</tspan><tspan x="150.79" textLength="29.84" lengthAdjust="spacingAndGlyphs">p</tspan><tspan x="179.80" textLength="15.92" lengthAdjust="spacingAndGlyphs">t</tspan><tspan x="196.24" textLength="14.06" lengthAdjust="spacingAndGlyphs">i</tspan><tspan x="210.05" textLength="27.82" lengthAdjust="spacingAndGlyphs">o</tspan><tspan x="237.29" textLength="29.79" lengthAdjust="spacingAndGlyphs">n</tspan></text>
<text class="b" y="1023.40" style="font-size:50.8px"><tspan x="18.50" textLength="30.60" lengthAdjust="spacingAndGlyphs">S</tspan><tspan x="48.30" textLength="29.84" lengthAdjust="spacingAndGlyphs">p</tspan><tspan x="77.35" textLength="27.16" lengthAdjust="spacingAndGlyphs">e</tspan><tspan x="104.39" textLength="26.08" lengthAdjust="spacingAndGlyphs">c</tspan><tspan x="129.78" textLength="14.28" lengthAdjust="spacingAndGlyphs">i</tspan><tspan x="143.60" textLength="31.12" lengthAdjust="spacingAndGlyphs">fi</tspan><tspan x="174.17" textLength="26.08" lengthAdjust="spacingAndGlyphs">c</tspan><tspan x="199.56" textLength="14.28" lengthAdjust="spacingAndGlyphs">i</tspan><tspan x="213.37" textLength="15.92" lengthAdjust="spacingAndGlyphs">t</tspan><tspan x="230.29" textLength="26.23" lengthAdjust="spacingAndGlyphs">y</tspan></text>
<text class="b" y="1245.70" style="font-size:50.8px"><tspan x="52.81" textLength="29.21" lengthAdjust="spacingAndGlyphs">E</tspan><tspan x="80.53" textLength="26.23" lengthAdjust="spacingAndGlyphs">x</tspan><tspan x="106.07" textLength="25.22" lengthAdjust="spacingAndGlyphs">a</tspan><tspan x="131.80" textLength="44.04" lengthAdjust="spacingAndGlyphs">m</tspan><tspan x="175.15" textLength="29.84" lengthAdjust="spacingAndGlyphs">p</tspan><tspan x="204.21" textLength="14.00" lengthAdjust="spacingAndGlyphs">l</tspan><tspan x="217.43" textLength="27.16" lengthAdjust="spacingAndGlyphs">e</tspan></text>
<text class="b" y="1302.10" style="font-size:50.8px"><tspan x="9.03" textLength="35.64" lengthAdjust="spacingAndGlyphs">A</tspan><tspan x="42.71" textLength="29.84" lengthAdjust="spacingAndGlyphs">p</tspan><tspan x="70.04" textLength="29.84" lengthAdjust="spacingAndGlyphs">p</tspan><tspan x="99.09" textLength="14.04" lengthAdjust="spacingAndGlyphs">l</tspan><tspan x="111.82" textLength="14.04" lengthAdjust="spacingAndGlyphs">i</tspan><tspan x="125.59" textLength="26.08" lengthAdjust="spacingAndGlyphs">c</tspan><tspan x="151.67" textLength="25.22" lengthAdjust="spacingAndGlyphs">a</tspan><tspan x="178.32" textLength="15.92" lengthAdjust="spacingAndGlyphs">t</tspan><tspan x="194.78" textLength="14.04" lengthAdjust="spacingAndGlyphs">i</tspan><tspan x="208.58" textLength="27.82" lengthAdjust="spacingAndGlyphs">o</tspan><tspan x="235.82" textLength="29.79" lengthAdjust="spacingAndGlyphs">n</tspan><tspan x="264.84" textLength="24.99" lengthAdjust="spacingAndGlyphs">s</tspan></text>
<text class="b" y="1470.00" style="font-size:50.8px"><tspan x="68.80" textLength="31.62" lengthAdjust="spacingAndGlyphs">P</tspan><tspan x="100.13" textLength="14.51" lengthAdjust="spacingAndGlyphs">i</tspan><tspan x="114.06" textLength="15.92" lengthAdjust="spacingAndGlyphs">t</tspan><tspan x="130.98" textLength="16.92" lengthAdjust="spacingAndGlyphs">f</tspan><tspan x="148.98" textLength="25.22" lengthAdjust="spacingAndGlyphs">a</tspan><tspan x="175.63" textLength="14.11" lengthAdjust="spacingAndGlyphs">l</tspan><tspan x="188.86" textLength="14.11" lengthAdjust="spacingAndGlyphs">l</tspan><tspan x="202.21" textLength="24.99" lengthAdjust="spacingAndGlyphs">s</tspan></text>
<text class="r" y="666.30" style="font-size:50.0px"><tspan x="360.20" textLength="32.80" lengthAdjust="spacingAndGlyphs">C</tspan><tspan x="392.89" textLength="28.97" lengthAdjust="spacingAndGlyphs">o</tspan><tspan x="421.26" textLength="43.96" lengthAdjust="spacingAndGlyphs">m</tspan><tspan x="465.18" textLength="27.81" lengthAdjust="spacingAndGlyphs">p</tspan><tspan x="493.07" textLength="25.26" lengthAdjust="spacingAndGlyphs">a</tspan><tspan x="520.20" textLength="17.75" lengthAdjust="spacingAndGlyphs">r</tspan><tspan x="537.32" textLength="26.65" lengthAdjust="spacingAndGlyphs">e</tspan> <tspan x="609.70" textLength="17.93" lengthAdjust="spacingAndGlyphs">r</tspan><tspan x="626.92" textLength="26.65" lengthAdjust="spacingAndGlyphs">e</tspan><tspan x="653.87" textLength="23.91" lengthAdjust="spacingAndGlyphs">s</tspan><tspan x="678.58" textLength="27.81" lengthAdjust="spacingAndGlyphs">u</tspan><tspan x="706.04" textLength="12.19" lengthAdjust="spacingAndGlyphs">l</tspan><tspan x="718.21" textLength="14.88" lengthAdjust="spacingAndGlyphs">t</tspan><tspan x="735.58" textLength="23.91" lengthAdjust="spacingAndGlyphs">s</tspan> <tspan x="808.54" textLength="15.75" lengthAdjust="spacingAndGlyphs">f</tspan><tspan x="824.10" textLength="17.93" lengthAdjust="spacingAndGlyphs">r</tspan><tspan x="841.15" textLength="28.97" lengthAdjust="spacingAndGlyphs">o</tspan><tspan x="869.03" textLength="43.96" lengthAdjust="spacingAndGlyphs">m</tspan></text>
<text class="r" y="722.50" style="font-size:50.0px"><tspan x="360.30" textLength="25.39" lengthAdjust="spacingAndGlyphs">a</tspan><tspan x="387.64" textLength="27.81" lengthAdjust="spacingAndGlyphs">n</tspan><tspan x="415.19" textLength="14.88" lengthAdjust="spacingAndGlyphs">t</tspan><tspan x="431.62" textLength="11.91" lengthAdjust="spacingAndGlyphs">i</tspan><tspan x="443.64" textLength="27.81" lengthAdjust="spacingAndGlyphs">b</tspan><tspan x="471.57" textLength="28.97" lengthAdjust="spacingAndGlyphs">o</tspan><tspan x="500.11" textLength="27.81" lengthAdjust="spacingAndGlyphs">d</tspan><tspan x="528.25" textLength="23.00" lengthAdjust="spacingAndGlyphs">y</tspan><tspan x="549.85" textLength="16.65" lengthAdjust="spacingAndGlyphs">-</tspan><tspan x="565.64" textLength="27.81" lengthAdjust="spacingAndGlyphs">d</tspan><tspan x="593.86" textLength="26.65" lengthAdjust="spacingAndGlyphs">e</tspan><tspan x="620.23" textLength="27.81" lengthAdjust="spacingAndGlyphs">p</tspan><tspan x="648.33" textLength="26.65" lengthAdjust="spacingAndGlyphs">e</tspan><tspan x="674.70" textLength="27.81" lengthAdjust="spacingAndGlyphs">n</tspan><tspan x="702.26" textLength="27.81" lengthAdjust="spacingAndGlyphs">d</tspan><tspan x="730.48" textLength="26.65" lengthAdjust="spacingAndGlyphs">e</tspan><tspan x="756.85" textLength="27.81" lengthAdjust="spacingAndGlyphs">n</tspan><tspan x="784.40" textLength="14.88" lengthAdjust="spacingAndGlyphs">t</tspan> <tspan x="830.37" textLength="25.28" lengthAdjust="spacingAndGlyphs">a</tspan><tspan x="857.65" textLength="27.81" lengthAdjust="spacingAndGlyphs">n</tspan><tspan x="885.20" textLength="27.81" lengthAdjust="spacingAndGlyphs">d</tspan></text>
<text class="r" y="778.70" style="font-size:50.0px"><tspan x="360.27" textLength="25.45" lengthAdjust="spacingAndGlyphs">a</tspan><tspan x="387.64" textLength="27.81" lengthAdjust="spacingAndGlyphs">n</tspan><tspan x="415.19" textLength="14.88" lengthAdjust="spacingAndGlyphs">t</tspan><tspan x="431.60" textLength="11.93" lengthAdjust="spacingAndGlyphs">i</tspan><tspan x="443.64" textLength="27.81" lengthAdjust="spacingAndGlyphs">b</tspan><tspan x="471.57" textLength="28.97" lengthAdjust="spacingAndGlyphs">o</tspan><tspan x="500.11" textLength="27.81" lengthAdjust="spacingAndGlyphs">d</tspan><tspan x="528.25" textLength="23.00" lengthAdjust="spacingAndGlyphs">y</tspan><tspan x="549.85" textLength="16.65" lengthAdjust="spacingAndGlyphs">-</tspan><tspan x="565.73" textLength="11.93" lengthAdjust="spacingAndGlyphs">i</tspan><tspan x="577.77" textLength="27.81" lengthAdjust="spacingAndGlyphs">n</tspan><tspan x="605.32" textLength="27.81" lengthAdjust="spacingAndGlyphs">d</tspan><tspan x="633.54" textLength="26.65" lengthAdjust="spacingAndGlyphs">e</tspan><tspan x="659.92" textLength="27.81" lengthAdjust="spacingAndGlyphs">p</tspan><tspan x="688.01" textLength="26.65" lengthAdjust="spacingAndGlyphs">e</tspan><tspan x="714.39" textLength="27.81" lengthAdjust="spacingAndGlyphs">n</tspan><tspan x="741.94" textLength="27.81" lengthAdjust="spacingAndGlyphs">d</tspan><tspan x="770.16" textLength="26.65" lengthAdjust="spacingAndGlyphs">e</tspan><tspan x="796.53" textLength="27.81" lengthAdjust="spacingAndGlyphs">n</tspan><tspan x="824.08" textLength="14.88" lengthAdjust="spacingAndGlyphs">t</tspan></text>
<text class="r" y="834.90" style="font-size:50.0px"><tspan x="360.38" textLength="26.65" lengthAdjust="spacingAndGlyphs">e</tspan><tspan x="387.67" textLength="23.18" lengthAdjust="spacingAndGlyphs">x</tspan><tspan x="411.51" textLength="27.81" lengthAdjust="spacingAndGlyphs">p</tspan><tspan x="439.60" textLength="26.65" lengthAdjust="spacingAndGlyphs">e</tspan><tspan x="465.75" textLength="17.93" lengthAdjust="spacingAndGlyphs">r</tspan><tspan x="482.90" textLength="12.09" lengthAdjust="spacingAndGlyphs">i</tspan><tspan x="494.85" textLength="43.96" lengthAdjust="spacingAndGlyphs">m</tspan><tspan x="538.85" textLength="26.65" lengthAdjust="spacingAndGlyphs">e</tspan><tspan x="565.22" textLength="27.81" lengthAdjust="spacingAndGlyphs">n</tspan><tspan x="592.77" textLength="14.88" lengthAdjust="spacingAndGlyphs">t</tspan><tspan x="610.14" textLength="23.91" lengthAdjust="spacingAndGlyphs">s</tspan><tspan x="633.73" textLength="15.12" lengthAdjust="spacingAndGlyphs">.</tspan></text>
<text class="r" y="667.60" style="font-size:50.0px"><tspan x="1004.74" textLength="32.20" lengthAdjust="spacingAndGlyphs">K</tspan><tspan x="1035.90" textLength="27.81" lengthAdjust="spacingAndGlyphs">n</tspan><tspan x="1062.81" textLength="28.97" lengthAdjust="spacingAndGlyphs">o</tspan><tspan x="1091.26" textLength="26.14" lengthAdjust="spacingAndGlyphs">c</tspan><tspan x="1117.46" textLength="25.00" lengthAdjust="spacingAndGlyphs">k</tspan><tspan x="1140.75" textLength="16.65" lengthAdjust="spacingAndGlyphs">-</tspan><tspan x="1156.45" textLength="28.97" lengthAdjust="spacingAndGlyphs">o</tspan><tspan x="1184.99" textLength="27.81" lengthAdjust="spacingAndGlyphs">u</tspan><tspan x="1212.49" textLength="14.88" lengthAdjust="spacingAndGlyphs">t</tspan><tspan x="1231.19" textLength="15.13" lengthAdjust="spacingAndGlyphs">/</tspan><tspan x="1249.54" textLength="32.20" lengthAdjust="spacingAndGlyphs">K</tspan><tspan x="1280.70" textLength="27.81" lengthAdjust="spacingAndGlyphs">n</tspan><tspan x="1307.61" textLength="28.97" lengthAdjust="spacingAndGlyphs">o</tspan><tspan x="1336.06" textLength="26.14" lengthAdjust="spacingAndGlyphs">c</tspan><tspan x="1362.26" textLength="25.00" lengthAdjust="spacingAndGlyphs">k</tspan><tspan x="1385.55" textLength="16.65" lengthAdjust="spacingAndGlyphs">-</tspan><tspan x="1401.34" textLength="27.81" lengthAdjust="spacingAndGlyphs">d</tspan><tspan x="1429.39" textLength="28.97" lengthAdjust="spacingAndGlyphs">o</tspan><tspan x="1459.87" textLength="34.21" lengthAdjust="spacingAndGlyphs">w</tspan><tspan x="1495.42" textLength="27.81" lengthAdjust="spacingAndGlyphs">n</tspan></text>
<text class="r" y="723.80" style="font-size:50.0px"><tspan x="1006.20" textLength="14.88" lengthAdjust="spacingAndGlyphs">t</tspan><tspan x="1022.07" textLength="25.86" lengthAdjust="spacingAndGlyphs">a</tspan><tspan x="1049.43" textLength="17.93" lengthAdjust="spacingAndGlyphs">r</tspan><tspan x="1066.57" textLength="27.81" lengthAdjust="spacingAndGlyphs">g</tspan><tspan x="1094.20" textLength="26.65" lengthAdjust="spacingAndGlyphs">e</tspan><tspan x="1120.57" textLength="14.88" lengthAdjust="spacingAndGlyphs">t</tspan> <tspan x="1149.27" textLength="27.81" lengthAdjust="spacingAndGlyphs">g</tspan><tspan x="1177.37" textLength="26.65" lengthAdjust="spacingAndGlyphs">e</tspan><tspan x="1203.74" textLength="27.81" lengthAdjust="spacingAndGlyphs">n</tspan><tspan x="1231.38" textLength="26.65" lengthAdjust="spacingAndGlyphs">e</tspan><tspan x="1256.86" textLength="14.66" lengthAdjust="spacingAndGlyphs">.</tspan></text>
<text class="r" y="667.60" style="font-size:50.0px"><tspan x="1651.28" textLength="30.42" lengthAdjust="spacingAndGlyphs">E</tspan><tspan x="1681.56" textLength="23.00" lengthAdjust="spacingAndGlyphs">x</tspan><tspan x="1705.31" textLength="27.81" lengthAdjust="spacingAndGlyphs">p</tspan><tspan x="1733.40" textLength="26.65" lengthAdjust="spacingAndGlyphs">e</tspan><tspan x="1759.61" textLength="17.83" lengthAdjust="spacingAndGlyphs">r</tspan><tspan x="1776.79" textLength="11.89" lengthAdjust="spacingAndGlyphs">i</tspan><tspan x="1788.65" textLength="43.96" lengthAdjust="spacingAndGlyphs">m</tspan><tspan x="1832.65" textLength="26.65" lengthAdjust="spacingAndGlyphs">e</tspan><tspan x="1859.02" textLength="27.81" lengthAdjust="spacingAndGlyphs">n</tspan><tspan x="1886.58" textLength="14.87" lengthAdjust="spacingAndGlyphs">t</tspan><tspan x="1902.72" textLength="25.36" lengthAdjust="spacingAndGlyphs">a</tspan><tspan x="1930.14" textLength="11.89" lengthAdjust="spacingAndGlyphs">l</tspan><tspan x="1942.28" textLength="11.89" lengthAdjust="spacingAndGlyphs">l</tspan><tspan x="1954.30" textLength="23.00" lengthAdjust="spacingAndGlyphs">y</tspan> <tspan x="1990.36" textLength="11.96" lengthAdjust="spacingAndGlyphs">i</tspan><tspan x="2002.41" textLength="27.81" lengthAdjust="spacingAndGlyphs">n</tspan><tspan x="2029.87" textLength="26.14" lengthAdjust="spacingAndGlyphs">c</tspan><tspan x="2055.85" textLength="17.92" lengthAdjust="spacingAndGlyphs">r</tspan><tspan x="2073.06" textLength="26.65" lengthAdjust="spacingAndGlyphs">e</tspan><tspan x="2098.72" textLength="25.50" lengthAdjust="spacingAndGlyphs">a</tspan><tspan x="2127.16" textLength="23.91" lengthAdjust="spacingAndGlyphs">s</tspan><tspan x="2151.94" textLength="26.65" lengthAdjust="spacingAndGlyphs">e</tspan></text>
<text class="r" y="723.80" style="font-size:50.0px"><tspan x="1653.80" textLength="14.88" lengthAdjust="spacingAndGlyphs">t</tspan><tspan x="1669.67" textLength="25.86" lengthAdjust="spacingAndGlyphs">a</tspan><tspan x="1697.03" textLength="17.93" lengthAdjust="spacingAndGlyphs">r</tspan><tspan x="1714.17" textLength="27.81" lengthAdjust="spacingAndGlyphs">g</tspan><tspan x="1741.80" textLength="26.65" lengthAdjust="spacingAndGlyphs">e</tspan><tspan x="1768.17" textLength="14.88" lengthAdjust="spacingAndGlyphs">t</tspan> <tspan x="1796.87" textLength="27.81" lengthAdjust="spacingAndGlyphs">p</tspan><tspan x="1824.65" textLength="17.93" lengthAdjust="spacingAndGlyphs">r</tspan><tspan x="1841.71" textLength="28.97" lengthAdjust="spacingAndGlyphs">o</tspan><tspan x="1869.76" textLength="14.88" lengthAdjust="spacingAndGlyphs">t</tspan><tspan x="1886.16" textLength="26.65" lengthAdjust="spacingAndGlyphs">e</tspan><tspan x="1912.48" textLength="12.22" lengthAdjust="spacingAndGlyphs">i</tspan><tspan x="1924.67" textLength="27.81" lengthAdjust="spacingAndGlyphs">n</tspan> <tspan x="1964.68" textLength="26.65" lengthAdjust="spacingAndGlyphs">e</tspan><tspan x="1992.05" textLength="23.00" lengthAdjust="spacingAndGlyphs">x</tspan><tspan x="2015.80" textLength="27.81" lengthAdjust="spacingAndGlyphs">p</tspan><tspan x="2043.58" textLength="17.93" lengthAdjust="spacingAndGlyphs">r</tspan><tspan x="2060.80" textLength="26.65" lengthAdjust="spacingAndGlyphs">e</tspan><tspan x="2087.76" textLength="23.91" lengthAdjust="spacingAndGlyphs">s</tspan><tspan x="2113.51" textLength="23.91" lengthAdjust="spacingAndGlyphs">s</tspan><tspan x="2138.27" textLength="12.00" lengthAdjust="spacingAndGlyphs">i</tspan><tspan x="2150.26" textLength="28.97" lengthAdjust="spacingAndGlyphs">o</tspan><tspan x="2178.80" textLength="27.81" lengthAdjust="spacingAndGlyphs">n</tspan><tspan x="2205.29" textLength="15.00" lengthAdjust="spacingAndGlyphs">.</tspan></text>
<text class="r" y="667.60" style="font-size:50.0px"><tspan x="2366.30" textLength="32.80" lengthAdjust="spacingAndGlyphs">C</tspan><tspan x="2398.99" textLength="28.97" lengthAdjust="spacingAndGlyphs">o</tspan><tspan x="2427.36" textLength="43.96" lengthAdjust="spacingAndGlyphs">m</tspan><tspan x="2471.28" textLength="27.81" lengthAdjust="spacingAndGlyphs">p</tspan><tspan x="2499.17" textLength="25.26" lengthAdjust="spacingAndGlyphs">a</tspan><tspan x="2526.30" textLength="17.75" lengthAdjust="spacingAndGlyphs">r</tspan><tspan x="2543.42" textLength="26.65" lengthAdjust="spacingAndGlyphs">e</tspan> <tspan x="2615.85" textLength="17.93" lengthAdjust="spacingAndGlyphs">r</tspan><tspan x="2633.07" textLength="26.65" lengthAdjust="spacingAndGlyphs">e</tspan><tspan x="2660.02" textLength="23.91" lengthAdjust="spacingAndGlyphs">s</tspan><tspan x="2684.73" textLength="27.81" lengthAdjust="spacingAndGlyphs">u</tspan><tspan x="2712.19" textLength="12.19" lengthAdjust="spacingAndGlyphs">l</tspan><tspan x="2724.36" textLength="14.88" lengthAdjust="spacingAndGlyphs">t</tspan><tspan x="2741.73" textLength="23.91" lengthAdjust="spacingAndGlyphs">s</tspan> <tspan x="2814.74" textLength="15.75" lengthAdjust="spacingAndGlyphs">f</tspan><tspan x="2830.30" textLength="17.93" lengthAdjust="spacingAndGlyphs">r</tspan><tspan x="2847.35" textLength="28.97" lengthAdjust="spacingAndGlyphs">o</tspan><tspan x="2875.23" textLength="43.96" lengthAdjust="spacingAndGlyphs">m</tspan></text>
<text class="r" y="723.80" style="font-size:50.0px"><tspan x="2365.98" textLength="26.65" lengthAdjust="spacingAndGlyphs">e</tspan><tspan x="2393.29" textLength="23.12" lengthAdjust="spacingAndGlyphs">x</tspan><tspan x="2417.11" textLength="27.81" lengthAdjust="spacingAndGlyphs">p</tspan><tspan x="2445.20" textLength="26.65" lengthAdjust="spacingAndGlyphs">e</tspan><tspan x="2471.35" textLength="17.93" lengthAdjust="spacingAndGlyphs">r</tspan><tspan x="2488.51" textLength="12.06" lengthAdjust="spacingAndGlyphs">i</tspan><tspan x="2500.45" textLength="43.96" lengthAdjust="spacingAndGlyphs">m</tspan><tspan x="2544.45" textLength="26.65" lengthAdjust="spacingAndGlyphs">e</tspan><tspan x="2570.82" textLength="27.81" lengthAdjust="spacingAndGlyphs">n</tspan><tspan x="2598.37" textLength="14.88" lengthAdjust="spacingAndGlyphs">t</tspan><tspan x="2615.74" textLength="23.91" lengthAdjust="spacingAndGlyphs">s</tspan> <tspan x="2798.76" textLength="27.81" lengthAdjust="spacingAndGlyphs">u</tspan><tspan x="2827.31" textLength="23.91" lengthAdjust="spacingAndGlyphs">s</tspan><tspan x="2852.01" textLength="12.12" lengthAdjust="spacingAndGlyphs">i</tspan><tspan x="2864.15" textLength="27.81" lengthAdjust="spacingAndGlyphs">n</tspan><tspan x="2891.70" textLength="27.81" lengthAdjust="spacingAndGlyphs">g</tspan></text>
<text class="r" y="780.00" style="font-size:50.0px"><tspan x="2366.00" textLength="27.81" lengthAdjust="spacingAndGlyphs">u</tspan><tspan x="2393.50" textLength="27.81" lengthAdjust="spacingAndGlyphs">n</tspan><tspan x="2421.13" textLength="11.97" lengthAdjust="spacingAndGlyphs">i</tspan><tspan x="2433.19" textLength="27.81" lengthAdjust="spacingAndGlyphs">q</tspan><tspan x="2461.54" textLength="27.81" lengthAdjust="spacingAndGlyphs">u</tspan><tspan x="2489.13" textLength="26.65" lengthAdjust="spacingAndGlyphs">e</tspan> <tspan x="2534.07" textLength="25.97" lengthAdjust="spacingAndGlyphs">a</tspan><tspan x="2561.71" textLength="27.81" lengthAdjust="spacingAndGlyphs">n</tspan><tspan x="2589.27" textLength="14.88" lengthAdjust="spacingAndGlyphs">t</tspan><tspan x="2605.56" textLength="12.18" lengthAdjust="spacingAndGlyphs">i</tspan><tspan x="2617.72" textLength="27.81" lengthAdjust="spacingAndGlyphs">b</tspan><tspan x="2645.65" textLength="28.97" lengthAdjust="spacingAndGlyphs">o</tspan><tspan x="2674.19" textLength="27.81" lengthAdjust="spacingAndGlyphs">d</tspan><tspan x="2702.30" textLength="12.18" lengthAdjust="spacingAndGlyphs">i</tspan><tspan x="2714.54" textLength="26.65" lengthAdjust="spacingAndGlyphs">e</tspan><tspan x="2741.96" textLength="23.91" lengthAdjust="spacingAndGlyphs">s</tspan> <tspan x="2785.74" textLength="14.88" lengthAdjust="spacingAndGlyphs">t</tspan><tspan x="2801.97" textLength="28.97" lengthAdjust="spacingAndGlyphs">o</tspan> <tspan x="2849.10" textLength="14.88" lengthAdjust="spacingAndGlyphs">t</tspan><tspan x="2865.42" textLength="27.81" lengthAdjust="spacingAndGlyphs">h</tspan><tspan x="2892.98" textLength="26.65" lengthAdjust="spacingAndGlyphs">e</tspan></text>
<text class="r" y="836.20" style="font-size:50.0px"><tspan x="2367.64" textLength="23.91" lengthAdjust="spacingAndGlyphs">s</tspan><tspan x="2392.03" textLength="25.62" lengthAdjust="spacingAndGlyphs">a</tspan><tspan x="2419.32" textLength="43.96" lengthAdjust="spacingAndGlyphs">m</tspan><tspan x="2463.32" textLength="26.65" lengthAdjust="spacingAndGlyphs">e</tspan> <tspan x="2502.07" textLength="14.88" lengthAdjust="spacingAndGlyphs">t</tspan><tspan x="2517.81" textLength="26.11" lengthAdjust="spacingAndGlyphs">a</tspan><tspan x="2545.30" textLength="17.93" lengthAdjust="spacingAndGlyphs">r</tspan><tspan x="2562.44" textLength="27.81" lengthAdjust="spacingAndGlyphs">g</tspan><tspan x="2590.07" textLength="26.65" lengthAdjust="spacingAndGlyphs">e</tspan><tspan x="2616.44" textLength="14.88" lengthAdjust="spacingAndGlyphs">t</tspan><tspan x="2631.55" textLength="15.31" lengthAdjust="spacingAndGlyphs">.</tspan></text>
<text class="r" y="667.60" style="font-size:50.0px"><tspan x="3012.10" textLength="32.50" lengthAdjust="spacingAndGlyphs">U</tspan><tspan x="3045.19" textLength="23.91" lengthAdjust="spacingAndGlyphs">s</tspan><tspan x="3069.98" textLength="26.65" lengthAdjust="spacingAndGlyphs">e</tspan> <tspan x="3133.56" textLength="43.96" lengthAdjust="spacingAndGlyphs">m</tspan><tspan x="3176.91" textLength="26.07" lengthAdjust="spacingAndGlyphs">a</tspan><tspan x="3205.66" textLength="23.91" lengthAdjust="spacingAndGlyphs">s</tspan><tspan x="3231.40" textLength="23.91" lengthAdjust="spacingAndGlyphs">s</tspan> <tspan x="3294.52" textLength="23.91" lengthAdjust="spacingAndGlyphs">s</tspan><tspan x="3319.23" textLength="27.81" lengthAdjust="spacingAndGlyphs">p</tspan><tspan x="3347.32" textLength="26.65" lengthAdjust="spacingAndGlyphs">e</tspan><tspan x="3373.61" textLength="26.14" lengthAdjust="spacingAndGlyphs">c</tspan> <tspan x="3437.18" textLength="14.88" lengthAdjust="spacingAndGlyphs">t</tspan><tspan x="3453.42" textLength="28.97" lengthAdjust="spacingAndGlyphs">o</tspan> <tspan x="3519.02" textLength="13.53" lengthAdjust="spacingAndGlyphs">I</tspan><tspan x="3532.93" textLength="31.29" lengthAdjust="spacingAndGlyphs">D</tspan></text>
<text class="r" y="723.80" style="font-size:50.0px"><tspan x="3011.80" textLength="27.81" lengthAdjust="spacingAndGlyphs">p</tspan><tspan x="3039.58" textLength="17.93" lengthAdjust="spacingAndGlyphs">r</tspan><tspan x="3056.64" textLength="28.97" lengthAdjust="spacingAndGlyphs">o</tspan><tspan x="3084.69" textLength="14.88" lengthAdjust="spacingAndGlyphs">t</tspan><tspan x="3101.09" textLength="26.65" lengthAdjust="spacingAndGlyphs">e</tspan><tspan x="3127.44" textLength="12.17" lengthAdjust="spacingAndGlyphs">i</tspan><tspan x="3139.60" textLength="27.81" lengthAdjust="spacingAndGlyphs">n</tspan><tspan x="3168.19" textLength="23.91" lengthAdjust="spacingAndGlyphs">s</tspan> <tspan x="3216.10" textLength="26.14" lengthAdjust="spacingAndGlyphs">c</tspan><tspan x="3241.92" textLength="25.75" lengthAdjust="spacingAndGlyphs">a</tspan><tspan x="3269.44" textLength="27.81" lengthAdjust="spacingAndGlyphs">p</tspan><tspan x="3297.46" textLength="14.88" lengthAdjust="spacingAndGlyphs">t</tspan><tspan x="3313.78" textLength="27.81" lengthAdjust="spacingAndGlyphs">u</tspan><tspan x="3341.05" textLength="17.93" lengthAdjust="spacingAndGlyphs">r</tspan><tspan x="3358.27" textLength="26.65" lengthAdjust="spacingAndGlyphs">e</tspan><tspan x="3384.18" textLength="27.81" lengthAdjust="spacingAndGlyphs">d</tspan> <tspan x="3435.61" textLength="27.81" lengthAdjust="spacingAndGlyphs">b</tspan><tspan x="3463.63" textLength="23.00" lengthAdjust="spacingAndGlyphs">y</tspan> <tspan x="3510.14" textLength="25.25" lengthAdjust="spacingAndGlyphs">a</tspan><tspan x="3537.40" textLength="27.81" lengthAdjust="spacingAndGlyphs">n</tspan></text>
<text class="r" y="780.00" style="font-size:50.0px"><tspan x="3011.76" textLength="26.04" lengthAdjust="spacingAndGlyphs">a</tspan><tspan x="3039.44" textLength="27.81" lengthAdjust="spacingAndGlyphs">n</tspan><tspan x="3066.99" textLength="14.88" lengthAdjust="spacingAndGlyphs">t</tspan><tspan x="3083.27" textLength="12.21" lengthAdjust="spacingAndGlyphs">i</tspan><tspan x="3095.44" textLength="27.81" lengthAdjust="spacingAndGlyphs">b</tspan><tspan x="3123.37" textLength="28.97" lengthAdjust="spacingAndGlyphs">o</tspan><tspan x="3151.91" textLength="27.81" lengthAdjust="spacingAndGlyphs">d</tspan><tspan x="3179.84" textLength="23.41" lengthAdjust="spacingAndGlyphs">y</tspan><tspan x="3202.46" textLength="15.27" lengthAdjust="spacingAndGlyphs">.</tspan></text>
<text class="r" y="1005.10" style="font-size:50.0px"><tspan x="561.40" textLength="31.39" lengthAdjust="spacingAndGlyphs">V</tspan><tspan x="592.84" textLength="25.63" lengthAdjust="spacingAndGlyphs">a</tspan><tspan x="618.95" textLength="17.93" lengthAdjust="spacingAndGlyphs">r</tspan><tspan x="636.14" textLength="12.02" lengthAdjust="spacingAndGlyphs">i</tspan><tspan x="648.30" textLength="26.65" lengthAdjust="spacingAndGlyphs">e</tspan><tspan x="675.72" textLength="23.91" lengthAdjust="spacingAndGlyphs">s</tspan></text>
<text class="r" y="1007.10" style="font-size:50.0px"><tspan x="1222.94" textLength="34.86" lengthAdjust="spacingAndGlyphs">H</tspan><tspan x="1258.41" textLength="12.09" lengthAdjust="spacingAndGlyphs">i</tspan><tspan x="1270.52" textLength="27.81" lengthAdjust="spacingAndGlyphs">g</tspan><tspan x="1298.54" textLength="27.81" lengthAdjust="spacingAndGlyphs">h</tspan></text>
<text class="r" y="1007.10" style="font-size:50.0px"><tspan x="1845.76" textLength="44.10" lengthAdjust="spacingAndGlyphs">M</tspan><tspan x="1889.64" textLength="26.65" lengthAdjust="spacingAndGlyphs">e</tspan><tspan x="1916.01" textLength="27.81" lengthAdjust="spacingAndGlyphs">d</tspan><tspan x="1944.08" textLength="12.25" lengthAdjust="spacingAndGlyphs">i</tspan><tspan x="1956.28" textLength="27.81" lengthAdjust="spacingAndGlyphs">u</tspan><tspan x="1983.62" textLength="43.96" lengthAdjust="spacingAndGlyphs">m</tspan></text>
<text class="r" y="1007.10" style="font-size:50.0px"><tspan x="2543.96" textLength="44.10" lengthAdjust="spacingAndGlyphs">M</tspan><tspan x="2587.84" textLength="26.65" lengthAdjust="spacingAndGlyphs">e</tspan><tspan x="2614.21" textLength="27.81" lengthAdjust="spacingAndGlyphs">d</tspan><tspan x="2642.28" textLength="12.25" lengthAdjust="spacingAndGlyphs">i</tspan><tspan x="2654.48" textLength="27.81" lengthAdjust="spacingAndGlyphs">u</tspan><tspan x="2681.82" textLength="43.96" lengthAdjust="spacingAndGlyphs">m</tspan></text>
<text class="r" y="1007.10" style="font-size:50.0px"><tspan x="3233.67" textLength="26.60" lengthAdjust="spacingAndGlyphs">L</tspan><tspan x="3260.29" textLength="28.97" lengthAdjust="spacingAndGlyphs">o</tspan><tspan x="3290.77" textLength="34.21" lengthAdjust="spacingAndGlyphs">w</tspan></text>
<text class="u" y="1222.50" style="font-size:50.0px"><tspan x="440.00" textLength="42.28" lengthAdjust="spacingAndGlyphs">W</tspan><tspan x="483.56" textLength="30.88" lengthAdjust="spacingAndGlyphs">B</tspan><tspan x="511.47" textLength="13.65" lengthAdjust="spacingAndGlyphs">,</tspan> <tspan x="536.54" textLength="13.89" lengthAdjust="spacingAndGlyphs">I</tspan><tspan x="550.25" textLength="34.86" lengthAdjust="spacingAndGlyphs">H</tspan><tspan x="585.94" textLength="31.73" lengthAdjust="spacingAndGlyphs">C</tspan><tspan x="615.14" textLength="13.95" lengthAdjust="spacingAndGlyphs">,</tspan> <tspan x="640.59" textLength="13.44" lengthAdjust="spacingAndGlyphs">I</tspan><tspan x="654.18" textLength="31.73" lengthAdjust="spacingAndGlyphs">C</tspan><tspan x="686.65" textLength="31.73" lengthAdjust="spacingAndGlyphs">C</tspan><tspan x="716.11" textLength="13.44" lengthAdjust="spacingAndGlyphs">,</tspan> <tspan x="741.39" textLength="28.10" lengthAdjust="spacingAndGlyphs">F</tspan><tspan x="767.85" textLength="30.01" lengthAdjust="spacingAndGlyphs">S</tspan><tspan x="795.65" textLength="13.14" lengthAdjust="spacingAndGlyphs">,</tspan></text>
<text class="u" y="1277.90" style="font-size:50.0px"><tspan x="563.47" textLength="28.03" lengthAdjust="spacingAndGlyphs">E</tspan><tspan x="591.63" textLength="26.60" lengthAdjust="spacingAndGlyphs">L</tspan><tspan x="618.42" textLength="13.70" lengthAdjust="spacingAndGlyphs">I</tspan><tspan x="631.09" textLength="30.01" lengthAdjust="spacingAndGlyphs">S</tspan><tspan x="661.52" textLength="31.39" lengthAdjust="spacingAndGlyphs">A</tspan></text>
<text class="u" y="1223.90" style="font-size:50.0px"><tspan x="1086.50" textLength="42.28" lengthAdjust="spacingAndGlyphs">W</tspan><tspan x="1130.06" textLength="30.88" lengthAdjust="spacingAndGlyphs">B</tspan><tspan x="1157.97" textLength="13.65" lengthAdjust="spacingAndGlyphs">,</tspan> <tspan x="1183.04" textLength="13.89" lengthAdjust="spacingAndGlyphs">I</tspan><tspan x="1196.75" textLength="34.86" lengthAdjust="spacingAndGlyphs">H</tspan><tspan x="1232.44" textLength="31.73" lengthAdjust="spacingAndGlyphs">C</tspan><tspan x="1261.64" textLength="13.95" lengthAdjust="spacingAndGlyphs">,</tspan> <tspan x="1287.09" textLength="13.44" lengthAdjust="spacingAndGlyphs">I</tspan><tspan x="1300.68" textLength="31.73" lengthAdjust="spacingAndGlyphs">C</tspan><tspan x="1333.15" textLength="31.73" lengthAdjust="spacingAndGlyphs">C</tspan><tspan x="1362.61" textLength="13.44" lengthAdjust="spacingAndGlyphs">,</tspan> <tspan x="1387.89" textLength="28.10" lengthAdjust="spacingAndGlyphs">F</tspan><tspan x="1414.35" textLength="30.01" lengthAdjust="spacingAndGlyphs">S</tspan><tspan x="1442.15" textLength="13.14" lengthAdjust="spacingAndGlyphs">,</tspan></text>
<text class="u" y="1281.00" style="font-size:50.0px"><tspan x="1176.37" textLength="28.03" lengthAdjust="spacingAndGlyphs">E</tspan><tspan x="1204.53" textLength="26.60" lengthAdjust="spacingAndGlyphs">L</tspan><tspan x="1231.32" textLength="13.70" lengthAdjust="spacingAndGlyphs">I</tspan><tspan x="1243.99" textLength="30.01" lengthAdjust="spacingAndGlyphs">S</tspan><tspan x="1274.42" textLength="31.39" lengthAdjust="spacingAndGlyphs">A</tspan><tspan x="1304.06" textLength="13.70" lengthAdjust="spacingAndGlyphs">,</tspan> <tspan x="1329.16" textLength="13.89" lengthAdjust="spacingAndGlyphs">I</tspan><tspan x="1342.87" textLength="32.11" lengthAdjust="spacingAndGlyphs">P</tspan></text>
<text class="u" y="1223.90" style="font-size:50.0px"><tspan x="1761.00" textLength="42.28" lengthAdjust="spacingAndGlyphs">W</tspan><tspan x="1804.56" textLength="30.88" lengthAdjust="spacingAndGlyphs">B</tspan><tspan x="1832.47" textLength="13.65" lengthAdjust="spacingAndGlyphs">,</tspan> <tspan x="1857.54" textLength="13.89" lengthAdjust="spacingAndGlyphs">I</tspan><tspan x="1871.25" textLength="34.86" lengthAdjust="spacingAndGlyphs">H</tspan><tspan x="1906.94" textLength="31.73" lengthAdjust="spacingAndGlyphs">C</tspan><tspan x="1936.14" textLength="13.95" lengthAdjust="spacingAndGlyphs">,</tspan> <tspan x="1961.59" textLength="13.44" lengthAdjust="spacingAndGlyphs">I</tspan><tspan x="1975.18" textLength="31.73" lengthAdjust="spacingAndGlyphs">C</tspan><tspan x="2007.65" textLength="31.73" lengthAdjust="spacingAndGlyphs">C</tspan><tspan x="2037.11" textLength="13.44" lengthAdjust="spacingAndGlyphs">,</tspan> <tspan x="2062.39" textLength="28.10" lengthAdjust="spacingAndGlyphs">F</tspan><tspan x="2088.85" textLength="30.01" lengthAdjust="spacingAndGlyphs">S</tspan></text>
<text class="u" y="1223.50" style="font-size:50.0px"><tspan x="2446.80" textLength="42.28" lengthAdjust="spacingAndGlyphs">W</tspan><tspan x="2490.36" textLength="30.88" lengthAdjust="spacingAndGlyphs">B</tspan><tspan x="2518.27" textLength="13.65" lengthAdjust="spacingAndGlyphs">,</tspan> <tspan x="2543.34" textLength="13.89" lengthAdjust="spacingAndGlyphs">I</tspan><tspan x="2557.05" textLength="34.86" lengthAdjust="spacingAndGlyphs">H</tspan><tspan x="2592.74" textLength="31.73" lengthAdjust="spacingAndGlyphs">C</tspan><tspan x="2621.94" textLength="13.95" lengthAdjust="spacingAndGlyphs">,</tspan> <tspan x="2647.39" textLength="13.44" lengthAdjust="spacingAndGlyphs">I</tspan><tspan x="2660.98" textLength="31.73" lengthAdjust="spacingAndGlyphs">C</tspan><tspan x="2693.45" textLength="31.73" lengthAdjust="spacingAndGlyphs">C</tspan><tspan x="2722.91" textLength="13.44" lengthAdjust="spacingAndGlyphs">,</tspan> <tspan x="2748.19" textLength="28.10" lengthAdjust="spacingAndGlyphs">F</tspan><tspan x="2774.65" textLength="30.01" lengthAdjust="spacingAndGlyphs">S</tspan><tspan x="2802.45" textLength="13.14" lengthAdjust="spacingAndGlyphs">,</tspan></text>
<text class="u" y="1279.00" style="font-size:50.0px"><tspan x="2536.07" textLength="28.03" lengthAdjust="spacingAndGlyphs">E</tspan><tspan x="2564.23" textLength="26.60" lengthAdjust="spacingAndGlyphs">L</tspan><tspan x="2591.02" textLength="13.70" lengthAdjust="spacingAndGlyphs">I</tspan><tspan x="2603.69" textLength="30.01" lengthAdjust="spacingAndGlyphs">S</tspan><tspan x="2634.12" textLength="31.39" lengthAdjust="spacingAndGlyphs">A</tspan><tspan x="2663.76" textLength="13.70" lengthAdjust="spacingAndGlyphs">,</tspan> <tspan x="2688.86" textLength="13.89" lengthAdjust="spacingAndGlyphs">I</tspan><tspan x="2702.57" textLength="32.11" lengthAdjust="spacingAndGlyphs">P</tspan></text>
<text class="u" y="1223.50" style="font-size:50.0px"><tspan x="3257.00" textLength="13.89" lengthAdjust="spacingAndGlyphs">I</tspan><tspan x="3270.72" textLength="32.11" lengthAdjust="spacingAndGlyphs">P</tspan></text>
<text class="r" y="1439.50" style="font-size:50.0px"><tspan x="329.45" textLength="32.03" lengthAdjust="spacingAndGlyphs">R</tspan><tspan x="360.13" textLength="26.65" lengthAdjust="spacingAndGlyphs">e</tspan><tspan x="386.50" textLength="27.81" lengthAdjust="spacingAndGlyphs">q</tspan><tspan x="414.85" textLength="27.81" lengthAdjust="spacingAndGlyphs">u</tspan><tspan x="442.63" textLength="11.57" lengthAdjust="spacingAndGlyphs">i</tspan><tspan x="454.60" textLength="17.34" lengthAdjust="spacingAndGlyphs">r</tspan><tspan x="471.48" textLength="26.65" lengthAdjust="spacingAndGlyphs">e</tspan><tspan x="498.43" textLength="23.91" lengthAdjust="spacingAndGlyphs">s</tspan> <tspan x="745.04" textLength="24.00" lengthAdjust="spacingAndGlyphs">v</tspan><tspan x="768.99" textLength="25.43" lengthAdjust="spacingAndGlyphs">a</tspan><tspan x="795.78" textLength="17.88" lengthAdjust="spacingAndGlyphs">r</tspan><tspan x="812.98" textLength="11.93" lengthAdjust="spacingAndGlyphs">i</tspan><tspan x="824.80" textLength="25.43" lengthAdjust="spacingAndGlyphs">a</tspan><tspan x="852.15" textLength="27.81" lengthAdjust="spacingAndGlyphs">b</tspan><tspan x="880.26" textLength="11.93" lengthAdjust="spacingAndGlyphs">l</tspan><tspan x="892.38" textLength="26.65" lengthAdjust="spacingAndGlyphs">e</tspan></text>
<text class="r" y="1495.95" style="font-size:50.0px"><tspan x="331.38" textLength="26.65" lengthAdjust="spacingAndGlyphs">e</tspan><tspan x="358.75" textLength="23.02" lengthAdjust="spacingAndGlyphs">x</tspan><tspan x="382.51" textLength="27.81" lengthAdjust="spacingAndGlyphs">p</tspan><tspan x="410.29" textLength="17.93" lengthAdjust="spacingAndGlyphs">r</tspan><tspan x="427.51" textLength="26.65" lengthAdjust="spacingAndGlyphs">e</tspan><tspan x="454.46" textLength="23.91" lengthAdjust="spacingAndGlyphs">s</tspan><tspan x="480.21" textLength="23.91" lengthAdjust="spacingAndGlyphs">s</tspan><tspan x="504.97" textLength="12.01" lengthAdjust="spacingAndGlyphs">i</tspan><tspan x="516.97" textLength="28.97" lengthAdjust="spacingAndGlyphs">o</tspan><tspan x="545.50" textLength="27.81" lengthAdjust="spacingAndGlyphs">n</tspan> <tspan x="605.91" textLength="28.97" lengthAdjust="spacingAndGlyphs">o</tspan><tspan x="635.51" textLength="16.75" lengthAdjust="spacingAndGlyphs">f</tspan> <tspan x="684.73" textLength="14.88" lengthAdjust="spacingAndGlyphs">t</tspan><tspan x="701.05" textLength="27.81" lengthAdjust="spacingAndGlyphs">h</tspan><tspan x="728.62" textLength="26.65" lengthAdjust="spacingAndGlyphs">e</tspan> <tspan x="787.93" textLength="14.88" lengthAdjust="spacingAndGlyphs">t</tspan><tspan x="803.80" textLength="25.86" lengthAdjust="spacingAndGlyphs">a</tspan><tspan x="831.16" textLength="17.93" lengthAdjust="spacingAndGlyphs">r</tspan><tspan x="848.29" textLength="27.81" lengthAdjust="spacingAndGlyphs">g</tspan><tspan x="875.93" textLength="26.65" lengthAdjust="spacingAndGlyphs">e</tspan><tspan x="902.30" textLength="14.88" lengthAdjust="spacingAndGlyphs">t</tspan></text>
<text class="r" y="1552.40" style="font-size:50.0px"><tspan x="331.16" textLength="25.28" lengthAdjust="spacingAndGlyphs">a</tspan><tspan x="358.44" textLength="27.81" lengthAdjust="spacingAndGlyphs">n</tspan><tspan x="385.99" textLength="27.81" lengthAdjust="spacingAndGlyphs">d</tspan> <tspan x="449.84" textLength="26.14" lengthAdjust="spacingAndGlyphs">c</tspan><tspan x="475.60" textLength="25.86" lengthAdjust="spacingAndGlyphs">a</tspan><tspan x="503.18" textLength="27.81" lengthAdjust="spacingAndGlyphs">n</tspan><tspan x="530.73" textLength="27.81" lengthAdjust="spacingAndGlyphs">n</tspan><tspan x="558.20" textLength="28.97" lengthAdjust="spacingAndGlyphs">o</tspan><tspan x="586.74" textLength="14.88" lengthAdjust="spacingAndGlyphs">t</tspan> <tspan x="638.94" textLength="26.65" lengthAdjust="spacingAndGlyphs">e</tspan><tspan x="665.32" textLength="27.81" lengthAdjust="spacingAndGlyphs">n</tspan><tspan x="692.87" textLength="14.88" lengthAdjust="spacingAndGlyphs">t</tspan><tspan x="709.28" textLength="11.95" lengthAdjust="spacingAndGlyphs">i</tspan><tspan x="721.11" textLength="17.90" lengthAdjust="spacingAndGlyphs">r</tspan><tspan x="738.31" textLength="26.65" lengthAdjust="spacingAndGlyphs">e</tspan><tspan x="764.31" textLength="11.95" lengthAdjust="spacingAndGlyphs">l</tspan><tspan x="776.35" textLength="23.00" lengthAdjust="spacingAndGlyphs">y</tspan> <tspan x="835.53" textLength="17.93" lengthAdjust="spacingAndGlyphs">r</tspan><tspan x="852.67" textLength="27.81" lengthAdjust="spacingAndGlyphs">u</tspan><tspan x="880.23" textLength="11.99" lengthAdjust="spacingAndGlyphs">l</tspan><tspan x="892.38" textLength="26.65" lengthAdjust="spacingAndGlyphs">e</tspan></text>
<text class="r" y="1608.85" style="font-size:50.0px"><tspan x="331.22" textLength="28.97" lengthAdjust="spacingAndGlyphs">o</tspan><tspan x="359.75" textLength="27.81" lengthAdjust="spacingAndGlyphs">u</tspan><tspan x="387.26" textLength="14.88" lengthAdjust="spacingAndGlyphs">t</tspan> <tspan x="416.17" textLength="27.81" lengthAdjust="spacingAndGlyphs">n</tspan><tspan x="443.64" textLength="28.97" lengthAdjust="spacingAndGlyphs">o</tspan><tspan x="472.18" textLength="27.81" lengthAdjust="spacingAndGlyphs">n</tspan><tspan x="497.73" textLength="16.65" lengthAdjust="spacingAndGlyphs">-</tspan><tspan x="514.56" textLength="23.91" lengthAdjust="spacingAndGlyphs">s</tspan><tspan x="539.27" textLength="27.81" lengthAdjust="spacingAndGlyphs">p</tspan><tspan x="567.36" textLength="26.65" lengthAdjust="spacingAndGlyphs">e</tspan><tspan x="593.65" textLength="26.14" lengthAdjust="spacingAndGlyphs">c</tspan><tspan x="619.85" textLength="12.12" lengthAdjust="spacingAndGlyphs">i</tspan><tspan x="632.04" textLength="27.27" lengthAdjust="spacingAndGlyphs">fi</tspan><tspan x="659.54" textLength="26.14" lengthAdjust="spacingAndGlyphs">c</tspan> <tspan x="698.34" textLength="27.81" lengthAdjust="spacingAndGlyphs">b</tspan><tspan x="726.34" textLength="12.16" lengthAdjust="spacingAndGlyphs">i</tspan><tspan x="738.49" textLength="27.81" lengthAdjust="spacingAndGlyphs">n</tspan><tspan x="766.04" textLength="27.81" lengthAdjust="spacingAndGlyphs">d</tspan><tspan x="794.16" textLength="12.16" lengthAdjust="spacingAndGlyphs">i</tspan><tspan x="806.31" textLength="27.81" lengthAdjust="spacingAndGlyphs">n</tspan><tspan x="833.86" textLength="27.81" lengthAdjust="spacingAndGlyphs">g</tspan> <tspan x="874.47" textLength="14.88" lengthAdjust="spacingAndGlyphs">t</tspan><tspan x="890.70" textLength="28.97" lengthAdjust="spacingAndGlyphs">o</tspan></text>
<text class="r" y="1665.30" style="font-size:50.0px"><tspan x="332.34" textLength="23.91" lengthAdjust="spacingAndGlyphs">s</tspan><tspan x="356.89" textLength="12.44" lengthAdjust="spacingAndGlyphs">i</tspan><tspan x="369.01" textLength="43.96" lengthAdjust="spacingAndGlyphs">m</tspan><tspan x="412.77" textLength="12.44" lengthAdjust="spacingAndGlyphs">i</tspan><tspan x="424.91" textLength="12.44" lengthAdjust="spacingAndGlyphs">l</tspan><tspan x="436.39" textLength="26.52" lengthAdjust="spacingAndGlyphs">a</tspan><tspan x="464.10" textLength="17.93" lengthAdjust="spacingAndGlyphs">r</tspan> <tspan x="493.62" textLength="27.81" lengthAdjust="spacingAndGlyphs">p</tspan><tspan x="521.40" textLength="17.93" lengthAdjust="spacingAndGlyphs">r</tspan><tspan x="538.45" textLength="28.97" lengthAdjust="spacingAndGlyphs">o</tspan><tspan x="566.50" textLength="14.88" lengthAdjust="spacingAndGlyphs">t</tspan><tspan x="582.91" textLength="26.65" lengthAdjust="spacingAndGlyphs">e</tspan><tspan x="609.26" textLength="12.17" lengthAdjust="spacingAndGlyphs">i</tspan><tspan x="621.41" textLength="27.81" lengthAdjust="spacingAndGlyphs">n</tspan><tspan x="650.01" textLength="23.91" lengthAdjust="spacingAndGlyphs">s</tspan></text>
<text class="r" y="1439.50" style="font-size:50.0px"><tspan x="991.85" textLength="32.03" lengthAdjust="spacingAndGlyphs">R</tspan><tspan x="1022.53" textLength="26.65" lengthAdjust="spacingAndGlyphs">e</tspan><tspan x="1048.90" textLength="27.81" lengthAdjust="spacingAndGlyphs">q</tspan><tspan x="1077.25" textLength="27.81" lengthAdjust="spacingAndGlyphs">u</tspan><tspan x="1105.03" textLength="11.57" lengthAdjust="spacingAndGlyphs">i</tspan><tspan x="1117.00" textLength="17.34" lengthAdjust="spacingAndGlyphs">r</tspan><tspan x="1133.88" textLength="26.65" lengthAdjust="spacingAndGlyphs">e</tspan><tspan x="1160.83" textLength="23.91" lengthAdjust="spacingAndGlyphs">s</tspan> <tspan x="1257.83" textLength="23.00" lengthAdjust="spacingAndGlyphs">y</tspan><tspan x="1281.35" textLength="28.97" lengthAdjust="spacingAndGlyphs">o</tspan><tspan x="1309.52" textLength="27.81" lengthAdjust="spacingAndGlyphs">u</tspan> <tspan x="1409.31" textLength="14.88" lengthAdjust="spacingAndGlyphs">t</tspan><tspan x="1425.55" textLength="28.97" lengthAdjust="spacingAndGlyphs">o</tspan> <tspan x="1525.89" textLength="27.81" lengthAdjust="spacingAndGlyphs">b</tspan><tspan x="1553.98" textLength="26.65" lengthAdjust="spacingAndGlyphs">e</tspan></text>
<text class="r" y="1495.95" style="font-size:50.0px"><tspan x="996.65" textLength="34.21" lengthAdjust="spacingAndGlyphs">w</tspan><tspan x="1032.11" textLength="28.97" lengthAdjust="spacingAndGlyphs">o</tspan><tspan x="1060.41" textLength="17.93" lengthAdjust="spacingAndGlyphs">r</tspan><tspan x="1077.55" textLength="25.00" lengthAdjust="spacingAndGlyphs">k</tspan><tspan x="1102.85" textLength="12.09" lengthAdjust="spacingAndGlyphs">i</tspan><tspan x="1114.97" textLength="27.81" lengthAdjust="spacingAndGlyphs">n</tspan><tspan x="1142.52" textLength="27.81" lengthAdjust="spacingAndGlyphs">g</tspan> <tspan x="1205.11" textLength="12.37" lengthAdjust="spacingAndGlyphs">i</tspan><tspan x="1217.37" textLength="27.81" lengthAdjust="spacingAndGlyphs">n</tspan> <tspan x="1279.85" textLength="24.60" lengthAdjust="spacingAndGlyphs">a</tspan> <tspan x="1341.45" textLength="27.81" lengthAdjust="spacingAndGlyphs">g</tspan><tspan x="1369.55" textLength="26.65" lengthAdjust="spacingAndGlyphs">e</tspan><tspan x="1395.92" textLength="27.81" lengthAdjust="spacingAndGlyphs">n</tspan><tspan x="1423.56" textLength="26.65" lengthAdjust="spacingAndGlyphs">e</tspan><tspan x="1449.93" textLength="14.88" lengthAdjust="spacingAndGlyphs">t</tspan><tspan x="1466.28" textLength="12.06" lengthAdjust="spacingAndGlyphs">i</tspan><tspan x="1478.29" textLength="26.14" lengthAdjust="spacingAndGlyphs">c</tspan><tspan x="1504.13" textLength="25.71" lengthAdjust="spacingAndGlyphs">a</tspan><tspan x="1531.67" textLength="12.06" lengthAdjust="spacingAndGlyphs">l</tspan><tspan x="1543.80" textLength="12.06" lengthAdjust="spacingAndGlyphs">l</tspan><tspan x="1555.84" textLength="23.12" lengthAdjust="spacingAndGlyphs">y</tspan></text>
<text class="r" y="1552.40" style="font-size:50.0px"><tspan x="995.70" textLength="14.88" lengthAdjust="spacingAndGlyphs">t</tspan><tspan x="1011.79" textLength="17.93" lengthAdjust="spacingAndGlyphs">r</tspan><tspan x="1028.33" textLength="26.14" lengthAdjust="spacingAndGlyphs">a</tspan><tspan x="1055.00" textLength="26.14" lengthAdjust="spacingAndGlyphs">c</tspan><tspan x="1081.21" textLength="14.88" lengthAdjust="spacingAndGlyphs">t</tspan><tspan x="1096.93" textLength="26.14" lengthAdjust="spacingAndGlyphs">a</tspan><tspan x="1124.67" textLength="27.81" lengthAdjust="spacingAndGlyphs">b</tspan><tspan x="1152.61" textLength="12.26" lengthAdjust="spacingAndGlyphs">l</tspan><tspan x="1164.89" textLength="26.65" lengthAdjust="spacingAndGlyphs">e</tspan> <tspan x="1222.66" textLength="23.91" lengthAdjust="spacingAndGlyphs">s</tspan><tspan x="1247.20" textLength="23.32" lengthAdjust="spacingAndGlyphs">y</tspan><tspan x="1272.01" textLength="23.91" lengthAdjust="spacingAndGlyphs">s</tspan><tspan x="1296.72" textLength="14.88" lengthAdjust="spacingAndGlyphs">t</tspan><tspan x="1313.12" textLength="26.65" lengthAdjust="spacingAndGlyphs">e</tspan><tspan x="1339.33" textLength="43.96" lengthAdjust="spacingAndGlyphs">m</tspan> <tspan x="1413.45" textLength="25.28" lengthAdjust="spacingAndGlyphs">a</tspan><tspan x="1440.73" textLength="27.81" lengthAdjust="spacingAndGlyphs">n</tspan><tspan x="1468.28" textLength="27.81" lengthAdjust="spacingAndGlyphs">d</tspan> <tspan x="1526.64" textLength="25.25" lengthAdjust="spacingAndGlyphs">a</tspan><tspan x="1553.90" textLength="27.81" lengthAdjust="spacingAndGlyphs">n</tspan></text>
<text class="r" y="1608.85" style="font-size:50.0px"><tspan x="993.54" textLength="25.33" lengthAdjust="spacingAndGlyphs">a</tspan><tspan x="1022.79" textLength="34.21" lengthAdjust="spacingAndGlyphs">w</tspan><tspan x="1058.17" textLength="25.33" lengthAdjust="spacingAndGlyphs">a</tspan><tspan x="1085.31" textLength="17.80" lengthAdjust="spacingAndGlyphs">r</tspan><tspan x="1102.46" textLength="26.65" lengthAdjust="spacingAndGlyphs">e</tspan><tspan x="1128.37" textLength="27.81" lengthAdjust="spacingAndGlyphs">n</tspan><tspan x="1156.00" textLength="26.65" lengthAdjust="spacingAndGlyphs">e</tspan><tspan x="1183.42" textLength="23.91" lengthAdjust="spacingAndGlyphs">s</tspan><tspan x="1209.17" textLength="23.91" lengthAdjust="spacingAndGlyphs">s</tspan> <tspan x="1287.71" textLength="28.97" lengthAdjust="spacingAndGlyphs">o</tspan><tspan x="1317.30" textLength="16.75" lengthAdjust="spacingAndGlyphs">f</tspan> <tspan x="1387.51" textLength="27.81" lengthAdjust="spacingAndGlyphs">p</tspan><tspan x="1415.44" textLength="28.97" lengthAdjust="spacingAndGlyphs">o</tspan><tspan x="1443.98" textLength="14.88" lengthAdjust="spacingAndGlyphs">t</tspan><tspan x="1460.38" textLength="26.65" lengthAdjust="spacingAndGlyphs">e</tspan><tspan x="1486.76" textLength="27.81" lengthAdjust="spacingAndGlyphs">n</tspan><tspan x="1514.31" textLength="14.88" lengthAdjust="spacingAndGlyphs">t</tspan><tspan x="1530.51" textLength="12.36" lengthAdjust="spacingAndGlyphs">i</tspan><tspan x="1542.05" textLength="26.35" lengthAdjust="spacingAndGlyphs">a</tspan><tspan x="1569.78" textLength="12.36" lengthAdjust="spacingAndGlyphs">l</tspan></text>
<text class="r" y="1665.30" style="font-size:50.0px"><tspan x="993.61" textLength="26.14" lengthAdjust="spacingAndGlyphs">c</tspan><tspan x="1019.73" textLength="28.97" lengthAdjust="spacingAndGlyphs">o</tspan><tspan x="1048.27" textLength="27.81" lengthAdjust="spacingAndGlyphs">n</tspan><tspan x="1077.64" textLength="15.24" lengthAdjust="spacingAndGlyphs">f</tspan><tspan x="1093.08" textLength="28.97" lengthAdjust="spacingAndGlyphs">o</tspan><tspan x="1121.62" textLength="27.81" lengthAdjust="spacingAndGlyphs">u</tspan><tspan x="1149.12" textLength="27.81" lengthAdjust="spacingAndGlyphs">n</tspan><tspan x="1176.67" textLength="27.81" lengthAdjust="spacingAndGlyphs">d</tspan><tspan x="1204.89" textLength="26.65" lengthAdjust="spacingAndGlyphs">e</tspan><tspan x="1231.03" textLength="17.93" lengthAdjust="spacingAndGlyphs">r</tspan><tspan x="1249.21" textLength="23.91" lengthAdjust="spacingAndGlyphs">s</tspan> <tspan x="1504.83" textLength="12.14" lengthAdjust="spacingAndGlyphs">l</tspan><tspan x="1516.96" textLength="12.14" lengthAdjust="spacingAndGlyphs">i</tspan><tspan x="1529.10" textLength="25.00" lengthAdjust="spacingAndGlyphs">k</tspan><tspan x="1554.47" textLength="26.65" lengthAdjust="spacingAndGlyphs">e</tspan></text>
<text class="r" y="1721.75" style="font-size:50.0px"><tspan x="992.27" textLength="25.82" lengthAdjust="spacingAndGlyphs">a</tspan><tspan x="1019.84" textLength="12.11" lengthAdjust="spacingAndGlyphs">l</tspan><tspan x="1031.97" textLength="14.88" lengthAdjust="spacingAndGlyphs">t</tspan><tspan x="1048.37" textLength="26.65" lengthAdjust="spacingAndGlyphs">e</tspan><tspan x="1074.52" textLength="17.93" lengthAdjust="spacingAndGlyphs">r</tspan><tspan x="1091.65" textLength="27.81" lengthAdjust="spacingAndGlyphs">n</tspan><tspan x="1118.78" textLength="25.82" lengthAdjust="spacingAndGlyphs">a</tspan><tspan x="1146.34" textLength="14.88" lengthAdjust="spacingAndGlyphs">t</tspan><tspan x="1162.67" textLength="12.11" lengthAdjust="spacingAndGlyphs">i</tspan><tspan x="1174.80" textLength="24.00" lengthAdjust="spacingAndGlyphs">v</tspan><tspan x="1199.05" textLength="26.65" lengthAdjust="spacingAndGlyphs">e</tspan> <tspan x="1237.24" textLength="12.59" lengthAdjust="spacingAndGlyphs">i</tspan><tspan x="1250.54" textLength="24.13" lengthAdjust="spacingAndGlyphs">s</tspan><tspan x="1275.27" textLength="28.97" lengthAdjust="spacingAndGlyphs">o</tspan><tspan x="1305.38" textLength="15.74" lengthAdjust="spacingAndGlyphs">f</tspan><tspan x="1321.07" textLength="28.97" lengthAdjust="spacingAndGlyphs">o</tspan><tspan x="1349.38" textLength="17.93" lengthAdjust="spacingAndGlyphs">r</tspan><tspan x="1366.35" textLength="43.96" lengthAdjust="spacingAndGlyphs">m</tspan><tspan x="1411.20" textLength="24.13" lengthAdjust="spacingAndGlyphs">s</tspan><tspan x="1434.58" textLength="15.74" lengthAdjust="spacingAndGlyphs">.</tspan></text>
<text class="r" y="1439.50" style="font-size:50.0px"><tspan x="1654.73" textLength="35.05" lengthAdjust="spacingAndGlyphs">O</tspan><tspan x="1689.62" textLength="24.00" lengthAdjust="spacingAndGlyphs">v</tspan><tspan x="1713.87" textLength="26.65" lengthAdjust="spacingAndGlyphs">e</tspan><tspan x="1739.88" textLength="17.61" lengthAdjust="spacingAndGlyphs">r</tspan><tspan x="1756.92" textLength="26.65" lengthAdjust="spacingAndGlyphs">e</tspan><tspan x="1783.83" textLength="23.00" lengthAdjust="spacingAndGlyphs">x</tspan><tspan x="1807.58" textLength="27.81" lengthAdjust="spacingAndGlyphs">p</tspan><tspan x="1835.54" textLength="17.61" lengthAdjust="spacingAndGlyphs">r</tspan><tspan x="1852.58" textLength="26.65" lengthAdjust="spacingAndGlyphs">e</tspan><tspan x="1879.54" textLength="23.91" lengthAdjust="spacingAndGlyphs">s</tspan><tspan x="1905.28" textLength="23.91" lengthAdjust="spacingAndGlyphs">s</tspan><tspan x="1930.17" textLength="11.75" lengthAdjust="spacingAndGlyphs">i</tspan><tspan x="1942.04" textLength="28.97" lengthAdjust="spacingAndGlyphs">o</tspan><tspan x="1970.58" textLength="27.81" lengthAdjust="spacingAndGlyphs">n</tspan> <tspan x="2210.56" textLength="28.97" lengthAdjust="spacingAndGlyphs">o</tspan><tspan x="2240.16" textLength="16.75" lengthAdjust="spacingAndGlyphs">f</tspan></text>
<text class="r" y="1495.95" style="font-size:50.0px"><tspan x="1655.38" textLength="26.65" lengthAdjust="spacingAndGlyphs">e</tspan><tspan x="1682.76" textLength="23.00" lengthAdjust="spacingAndGlyphs">x</tspan><tspan x="1706.42" textLength="28.97" lengthAdjust="spacingAndGlyphs">o</tspan><tspan x="1734.47" textLength="27.81" lengthAdjust="spacingAndGlyphs">g</tspan><tspan x="1762.57" textLength="26.65" lengthAdjust="spacingAndGlyphs">e</tspan><tspan x="1788.94" textLength="27.81" lengthAdjust="spacingAndGlyphs">n</tspan><tspan x="1816.41" textLength="28.97" lengthAdjust="spacingAndGlyphs">o</tspan><tspan x="1844.95" textLength="27.81" lengthAdjust="spacingAndGlyphs">u</tspan><tspan x="1873.49" textLength="23.91" lengthAdjust="spacingAndGlyphs">s</tspan> <tspan x="1960.85" textLength="27.81" lengthAdjust="spacingAndGlyphs">p</tspan><tspan x="1988.63" textLength="17.93" lengthAdjust="spacingAndGlyphs">r</tspan><tspan x="2005.69" textLength="28.97" lengthAdjust="spacingAndGlyphs">o</tspan><tspan x="2033.74" textLength="14.88" lengthAdjust="spacingAndGlyphs">t</tspan><tspan x="2050.14" textLength="26.65" lengthAdjust="spacingAndGlyphs">e</tspan><tspan x="2076.46" textLength="12.22" lengthAdjust="spacingAndGlyphs">i</tspan><tspan x="2088.65" textLength="27.81" lengthAdjust="spacingAndGlyphs">n</tspan> <tspan x="2178.76" textLength="26.14" lengthAdjust="spacingAndGlyphs">c</tspan><tspan x="2204.58" textLength="25.73" lengthAdjust="spacingAndGlyphs">a</tspan><tspan x="2232.10" textLength="27.81" lengthAdjust="spacingAndGlyphs">n</tspan></text>
<text class="r" y="1552.40" style="font-size:50.0px"><tspan x="1654.43" textLength="11.86" lengthAdjust="spacingAndGlyphs">l</tspan><tspan x="1666.51" textLength="26.65" lengthAdjust="spacingAndGlyphs">e</tspan><tspan x="1692.74" textLength="25.30" lengthAdjust="spacingAndGlyphs">a</tspan><tspan x="1720.03" textLength="27.81" lengthAdjust="spacingAndGlyphs">d</tspan> <tspan x="1777.56" textLength="14.88" lengthAdjust="spacingAndGlyphs">t</tspan><tspan x="1793.80" textLength="28.97" lengthAdjust="spacingAndGlyphs">o</tspan> <tspan x="1851.17" textLength="28.97" lengthAdjust="spacingAndGlyphs">o</tspan><tspan x="1879.70" textLength="24.00" lengthAdjust="spacingAndGlyphs">v</tspan><tspan x="1903.59" textLength="26.65" lengthAdjust="spacingAndGlyphs">e</tspan><tspan x="1929.41" textLength="17.93" lengthAdjust="spacingAndGlyphs">r</tspan><tspan x="1946.46" textLength="26.14" lengthAdjust="spacingAndGlyphs">c</tspan><tspan x="1972.12" textLength="28.97" lengthAdjust="spacingAndGlyphs">o</tspan><tspan x="2000.65" textLength="27.81" lengthAdjust="spacingAndGlyphs">n</tspan><tspan x="2028.36" textLength="27.05" lengthAdjust="spacingAndGlyphs">fi</tspan><tspan x="2055.85" textLength="27.81" lengthAdjust="spacingAndGlyphs">d</tspan><tspan x="2084.07" textLength="26.65" lengthAdjust="spacingAndGlyphs">e</tspan><tspan x="2110.45" textLength="27.81" lengthAdjust="spacingAndGlyphs">n</tspan><tspan x="2137.91" textLength="26.14" lengthAdjust="spacingAndGlyphs">c</tspan><tspan x="2164.20" textLength="26.65" lengthAdjust="spacingAndGlyphs">e</tspan> <tspan x="2219.84" textLength="12.37" lengthAdjust="spacingAndGlyphs">i</tspan><tspan x="2232.10" textLength="27.81" lengthAdjust="spacingAndGlyphs">n</tspan></text>
<text class="r" y="1608.85" style="font-size:50.0px"><tspan x="1656.50" textLength="14.88" lengthAdjust="spacingAndGlyphs">t</tspan><tspan x="1672.82" textLength="27.81" lengthAdjust="spacingAndGlyphs">h</tspan><tspan x="1700.38" textLength="26.65" lengthAdjust="spacingAndGlyphs">e</tspan> <tspan x="1738.84" textLength="25.57" lengthAdjust="spacingAndGlyphs">a</tspan><tspan x="1766.27" textLength="27.81" lengthAdjust="spacingAndGlyphs">n</tspan><tspan x="1793.82" textLength="14.88" lengthAdjust="spacingAndGlyphs">t</tspan><tspan x="1810.21" textLength="11.99" lengthAdjust="spacingAndGlyphs">i</tspan><tspan x="1822.27" textLength="27.81" lengthAdjust="spacingAndGlyphs">b</tspan><tspan x="1850.21" textLength="28.97" lengthAdjust="spacingAndGlyphs">o</tspan><tspan x="1878.74" textLength="27.81" lengthAdjust="spacingAndGlyphs">d</tspan><tspan x="1906.88" textLength="23.00" lengthAdjust="spacingAndGlyphs">y</tspan><tspan x="1930.39" textLength="8.78" lengthAdjust="spacingAndGlyphs">&#39;</tspan><tspan x="1940.61" textLength="23.91" lengthAdjust="spacingAndGlyphs">s</tspan> <tspan x="1976.79" textLength="23.91" lengthAdjust="spacingAndGlyphs">s</tspan><tspan x="2001.50" textLength="27.81" lengthAdjust="spacingAndGlyphs">p</tspan><tspan x="2029.59" textLength="26.65" lengthAdjust="spacingAndGlyphs">e</tspan><tspan x="2055.87" textLength="26.14" lengthAdjust="spacingAndGlyphs">c</tspan><tspan x="2081.94" textLength="12.41" lengthAdjust="spacingAndGlyphs">i</tspan><tspan x="2094.21" textLength="27.41" lengthAdjust="spacingAndGlyphs">fi</tspan><tspan x="2121.77" textLength="26.14" lengthAdjust="spacingAndGlyphs">c</tspan><tspan x="2147.83" textLength="12.41" lengthAdjust="spacingAndGlyphs">i</tspan><tspan x="2160.11" textLength="14.88" lengthAdjust="spacingAndGlyphs">t</tspan><tspan x="2176.03" textLength="23.79" lengthAdjust="spacingAndGlyphs">y</tspan><tspan x="2198.71" textLength="15.52" lengthAdjust="spacingAndGlyphs">.</tspan></text>
<text class="r" y="1439.50" style="font-size:50.0px"><tspan x="2327.85" textLength="32.03" lengthAdjust="spacingAndGlyphs">R</tspan><tspan x="2358.53" textLength="26.65" lengthAdjust="spacingAndGlyphs">e</tspan><tspan x="2384.90" textLength="27.81" lengthAdjust="spacingAndGlyphs">q</tspan><tspan x="2413.25" textLength="27.81" lengthAdjust="spacingAndGlyphs">u</tspan><tspan x="2441.03" textLength="11.57" lengthAdjust="spacingAndGlyphs">i</tspan><tspan x="2453.00" textLength="17.34" lengthAdjust="spacingAndGlyphs">r</tspan><tspan x="2469.88" textLength="26.65" lengthAdjust="spacingAndGlyphs">e</tspan><tspan x="2496.83" textLength="23.91" lengthAdjust="spacingAndGlyphs">s</tspan> <tspan x="2557.60" textLength="23.00" lengthAdjust="spacingAndGlyphs">y</tspan><tspan x="2581.12" textLength="28.97" lengthAdjust="spacingAndGlyphs">o</tspan><tspan x="2609.29" textLength="27.81" lengthAdjust="spacingAndGlyphs">u</tspan> <tspan x="2672.86" textLength="14.88" lengthAdjust="spacingAndGlyphs">t</tspan><tspan x="2689.10" textLength="28.97" lengthAdjust="spacingAndGlyphs">o</tspan> <tspan x="2752.87" textLength="25.66" lengthAdjust="spacingAndGlyphs">a</tspan><tspan x="2780.26" textLength="26.14" lengthAdjust="spacingAndGlyphs">c</tspan><tspan x="2806.47" textLength="27.81" lengthAdjust="spacingAndGlyphs">q</tspan><tspan x="2834.82" textLength="27.81" lengthAdjust="spacingAndGlyphs">u</tspan><tspan x="2862.37" textLength="12.03" lengthAdjust="spacingAndGlyphs">i</tspan><tspan x="2874.23" textLength="17.93" lengthAdjust="spacingAndGlyphs">r</tspan><tspan x="2891.45" textLength="26.65" lengthAdjust="spacingAndGlyphs">e</tspan></text>
<text class="r" y="1495.95" style="font-size:50.0px"><tspan x="2328.53" textLength="43.96" lengthAdjust="spacingAndGlyphs">m</tspan><tspan x="2372.45" textLength="27.81" lengthAdjust="spacingAndGlyphs">u</tspan><tspan x="2399.78" textLength="12.46" lengthAdjust="spacingAndGlyphs">l</tspan><tspan x="2412.09" textLength="14.88" lengthAdjust="spacingAndGlyphs">t</tspan><tspan x="2428.24" textLength="12.46" lengthAdjust="spacingAndGlyphs">i</tspan><tspan x="2440.54" textLength="27.81" lengthAdjust="spacingAndGlyphs">p</tspan><tspan x="2468.38" textLength="12.46" lengthAdjust="spacingAndGlyphs">l</tspan><tspan x="2480.77" textLength="26.65" lengthAdjust="spacingAndGlyphs">e</tspan> <tspan x="2523.64" textLength="25.97" lengthAdjust="spacingAndGlyphs">a</tspan><tspan x="2551.28" textLength="27.81" lengthAdjust="spacingAndGlyphs">n</tspan><tspan x="2578.84" textLength="14.88" lengthAdjust="spacingAndGlyphs">t</tspan><tspan x="2595.13" textLength="12.18" lengthAdjust="spacingAndGlyphs">i</tspan><tspan x="2607.29" textLength="27.81" lengthAdjust="spacingAndGlyphs">b</tspan><tspan x="2635.22" textLength="28.97" lengthAdjust="spacingAndGlyphs">o</tspan><tspan x="2663.76" textLength="27.81" lengthAdjust="spacingAndGlyphs">d</tspan><tspan x="2691.86" textLength="12.18" lengthAdjust="spacingAndGlyphs">i</tspan><tspan x="2704.11" textLength="26.65" lengthAdjust="spacingAndGlyphs">e</tspan><tspan x="2731.52" textLength="23.91" lengthAdjust="spacingAndGlyphs">s</tspan> <tspan x="2773.10" textLength="25.28" lengthAdjust="spacingAndGlyphs">a</tspan><tspan x="2800.37" textLength="27.81" lengthAdjust="spacingAndGlyphs">n</tspan><tspan x="2827.92" textLength="27.81" lengthAdjust="spacingAndGlyphs">d</tspan> <tspan x="2873.07" textLength="14.88" lengthAdjust="spacingAndGlyphs">t</tspan><tspan x="2889.30" textLength="28.97" lengthAdjust="spacingAndGlyphs">o</tspan></text>
<text class="r" y="1552.40" style="font-size:50.0px"><tspan x="2328.70" textLength="25.00" lengthAdjust="spacingAndGlyphs">k</tspan><tspan x="2353.99" textLength="27.81" lengthAdjust="spacingAndGlyphs">n</tspan><tspan x="2381.45" textLength="28.97" lengthAdjust="spacingAndGlyphs">o</tspan><tspan x="2411.94" textLength="34.21" lengthAdjust="spacingAndGlyphs">w</tspan> <tspan x="2551.88" textLength="14.88" lengthAdjust="spacingAndGlyphs">t</tspan><tspan x="2568.20" textLength="27.81" lengthAdjust="spacingAndGlyphs">h</tspan><tspan x="2595.77" textLength="26.65" lengthAdjust="spacingAndGlyphs">e</tspan> <tspan x="2726.62" textLength="26.65" lengthAdjust="spacingAndGlyphs">e</tspan><tspan x="2753.00" textLength="27.81" lengthAdjust="spacingAndGlyphs">p</tspan><tspan x="2781.03" textLength="12.08" lengthAdjust="spacingAndGlyphs">i</tspan><tspan x="2793.14" textLength="14.88" lengthAdjust="spacingAndGlyphs">t</tspan><tspan x="2809.38" textLength="28.97" lengthAdjust="spacingAndGlyphs">o</tspan><tspan x="2837.43" textLength="27.81" lengthAdjust="spacingAndGlyphs">p</tspan><tspan x="2865.53" textLength="26.65" lengthAdjust="spacingAndGlyphs">e</tspan><tspan x="2892.94" textLength="23.91" lengthAdjust="spacingAndGlyphs">s</tspan></text>
<text class="r" y="1608.85" style="font-size:50.0px"><tspan x="2328.48" textLength="17.92" lengthAdjust="spacingAndGlyphs">r</tspan><tspan x="2345.69" textLength="26.65" lengthAdjust="spacingAndGlyphs">e</tspan><tspan x="2371.51" textLength="26.14" lengthAdjust="spacingAndGlyphs">c</tspan><tspan x="2397.63" textLength="28.97" lengthAdjust="spacingAndGlyphs">o</tspan><tspan x="2426.17" textLength="27.81" lengthAdjust="spacingAndGlyphs">g</tspan><tspan x="2454.18" textLength="27.81" lengthAdjust="spacingAndGlyphs">n</tspan><tspan x="2481.81" textLength="11.96" lengthAdjust="spacingAndGlyphs">i</tspan><tspan x="2493.77" textLength="26.19" lengthAdjust="spacingAndGlyphs">z</tspan><tspan x="2518.70" textLength="26.65" lengthAdjust="spacingAndGlyphs">e</tspan><tspan x="2544.68" textLength="27.81" lengthAdjust="spacingAndGlyphs">d</tspan> <tspan x="2585.19" textLength="27.81" lengthAdjust="spacingAndGlyphs">b</tspan><tspan x="2613.21" textLength="23.00" lengthAdjust="spacingAndGlyphs">y</tspan> <tspan x="2649.00" textLength="26.65" lengthAdjust="spacingAndGlyphs">e</tspan><tspan x="2675.22" textLength="25.31" lengthAdjust="spacingAndGlyphs">a</tspan><tspan x="2702.42" textLength="26.14" lengthAdjust="spacingAndGlyphs">c</tspan><tspan x="2728.63" textLength="27.81" lengthAdjust="spacingAndGlyphs">h</tspan><tspan x="2755.13" textLength="14.84" lengthAdjust="spacingAndGlyphs">.</tspan></text>
<text class="r" y="1439.50" style="font-size:50.0px"><tspan x="2981.85" textLength="32.03" lengthAdjust="spacingAndGlyphs">R</tspan><tspan x="3012.53" textLength="26.65" lengthAdjust="spacingAndGlyphs">e</tspan><tspan x="3038.90" textLength="27.81" lengthAdjust="spacingAndGlyphs">q</tspan><tspan x="3067.25" textLength="27.81" lengthAdjust="spacingAndGlyphs">u</tspan><tspan x="3095.03" textLength="11.57" lengthAdjust="spacingAndGlyphs">i</tspan><tspan x="3107.00" textLength="17.34" lengthAdjust="spacingAndGlyphs">r</tspan><tspan x="3123.88" textLength="26.65" lengthAdjust="spacingAndGlyphs">e</tspan><tspan x="3150.83" textLength="23.91" lengthAdjust="spacingAndGlyphs">s</tspan> <tspan x="3231.26" textLength="23.00" lengthAdjust="spacingAndGlyphs">y</tspan><tspan x="3254.79" textLength="28.97" lengthAdjust="spacingAndGlyphs">o</tspan><tspan x="3282.96" textLength="27.81" lengthAdjust="spacingAndGlyphs">u</tspan> <tspan x="3366.19" textLength="14.88" lengthAdjust="spacingAndGlyphs">t</tspan><tspan x="3382.42" textLength="28.97" lengthAdjust="spacingAndGlyphs">o</tspan> <tspan x="3466.20" textLength="27.81" lengthAdjust="spacingAndGlyphs">h</tspan><tspan x="3493.85" textLength="24.72" lengthAdjust="spacingAndGlyphs">a</tspan><tspan x="3520.82" textLength="24.00" lengthAdjust="spacingAndGlyphs">v</tspan><tspan x="3544.70" textLength="26.65" lengthAdjust="spacingAndGlyphs">e</tspan></text>
<text class="r" y="1495.95" style="font-size:50.0px"><tspan x="2983.31" textLength="25.74" lengthAdjust="spacingAndGlyphs">a</tspan><tspan x="3010.75" textLength="26.14" lengthAdjust="spacingAndGlyphs">c</tspan><tspan x="3036.86" textLength="26.14" lengthAdjust="spacingAndGlyphs">c</tspan><tspan x="3063.15" textLength="26.65" lengthAdjust="spacingAndGlyphs">e</tspan><tspan x="3090.57" textLength="23.91" lengthAdjust="spacingAndGlyphs">s</tspan><tspan x="3116.32" textLength="23.91" lengthAdjust="spacingAndGlyphs">s</tspan> <tspan x="3176.60" textLength="14.88" lengthAdjust="spacingAndGlyphs">t</tspan><tspan x="3192.84" textLength="28.97" lengthAdjust="spacingAndGlyphs">o</tspan> <tspan x="3256.70" textLength="24.60" lengthAdjust="spacingAndGlyphs">a</tspan> <tspan x="3319.18" textLength="27.81" lengthAdjust="spacingAndGlyphs">p</tspan><tspan x="3346.97" textLength="17.93" lengthAdjust="spacingAndGlyphs">r</tspan><tspan x="3364.02" textLength="28.97" lengthAdjust="spacingAndGlyphs">o</tspan><tspan x="3392.07" textLength="14.88" lengthAdjust="spacingAndGlyphs">t</tspan><tspan x="3408.48" textLength="26.65" lengthAdjust="spacingAndGlyphs">e</tspan><tspan x="3434.77" textLength="28.97" lengthAdjust="spacingAndGlyphs">o</tspan><tspan x="3463.14" textLength="43.96" lengthAdjust="spacingAndGlyphs">m</tspan><tspan x="3506.95" textLength="12.33" lengthAdjust="spacingAndGlyphs">i</tspan><tspan x="3519.09" textLength="26.14" lengthAdjust="spacingAndGlyphs">c</tspan><tspan x="3546.34" textLength="23.91" lengthAdjust="spacingAndGlyphs">s</tspan></text>
<text class="r" y="1552.40" style="font-size:50.0px"><tspan x="2986.29" textLength="15.69" lengthAdjust="spacingAndGlyphs">f</tspan><tspan x="3001.11" textLength="26.76" lengthAdjust="spacingAndGlyphs">a</tspan><tspan x="3029.09" textLength="26.14" lengthAdjust="spacingAndGlyphs">c</tspan><tspan x="3055.08" textLength="12.55" lengthAdjust="spacingAndGlyphs">i</tspan><tspan x="3067.22" textLength="12.55" lengthAdjust="spacingAndGlyphs">l</tspan><tspan x="3079.35" textLength="12.55" lengthAdjust="spacingAndGlyphs">i</tspan><tspan x="3091.69" textLength="14.88" lengthAdjust="spacingAndGlyphs">t</tspan><tspan x="3107.48" textLength="24.06" lengthAdjust="spacingAndGlyphs">y</tspan> <tspan x="3179.63" textLength="25.28" lengthAdjust="spacingAndGlyphs">a</tspan><tspan x="3206.90" textLength="27.81" lengthAdjust="spacingAndGlyphs">n</tspan><tspan x="3234.45" textLength="27.81" lengthAdjust="spacingAndGlyphs">d</tspan> <tspan x="3310.25" textLength="13.09" lengthAdjust="spacingAndGlyphs">i</tspan><tspan x="3322.87" textLength="14.88" lengthAdjust="spacingAndGlyphs">t</tspan> <tspan x="3387.24" textLength="26.14" lengthAdjust="spacingAndGlyphs">c</tspan><tspan x="3413.07" textLength="25.73" lengthAdjust="spacingAndGlyphs">a</tspan><tspan x="3440.59" textLength="27.81" lengthAdjust="spacingAndGlyphs">n</tspan> <tspan x="3516.29" textLength="27.81" lengthAdjust="spacingAndGlyphs">b</tspan><tspan x="3544.38" textLength="26.65" lengthAdjust="spacingAndGlyphs">e</tspan></text>
<text class="r" y="1608.85" style="font-size:50.0px"><tspan x="2983.70" textLength="27.81" lengthAdjust="spacingAndGlyphs">d</tspan><tspan x="3011.56" textLength="12.69" lengthAdjust="spacingAndGlyphs">i</tspan><tspan x="3024.97" textLength="41.39" lengthAdjust="spacingAndGlyphs">ffi</tspan><tspan x="3066.46" textLength="26.14" lengthAdjust="spacingAndGlyphs">c</tspan><tspan x="3092.67" textLength="27.81" lengthAdjust="spacingAndGlyphs">u</tspan><tspan x="3119.89" textLength="12.69" lengthAdjust="spacingAndGlyphs">l</tspan><tspan x="3132.30" textLength="14.88" lengthAdjust="spacingAndGlyphs">t</tspan> <tspan x="3216.61" textLength="14.88" lengthAdjust="spacingAndGlyphs">t</tspan><tspan x="3232.84" textLength="28.97" lengthAdjust="spacingAndGlyphs">o</tspan> <tspan x="3328.88" textLength="27.81" lengthAdjust="spacingAndGlyphs">d</tspan><tspan x="3356.90" textLength="12.36" lengthAdjust="spacingAndGlyphs">i</tspan><tspan x="3370.19" textLength="23.91" lengthAdjust="spacingAndGlyphs">s</tspan><tspan x="3394.90" textLength="14.88" lengthAdjust="spacingAndGlyphs">t</tspan><tspan x="3411.10" textLength="12.36" lengthAdjust="spacingAndGlyphs">i</tspan><tspan x="3423.35" textLength="27.81" lengthAdjust="spacingAndGlyphs">n</tspan><tspan x="3450.90" textLength="27.81" lengthAdjust="spacingAndGlyphs">g</tspan><tspan x="3478.92" textLength="27.81" lengthAdjust="spacingAndGlyphs">u</tspan><tspan x="3506.30" textLength="12.36" lengthAdjust="spacingAndGlyphs">i</tspan><tspan x="3519.59" textLength="23.91" lengthAdjust="spacingAndGlyphs">s</tspan><tspan x="3544.30" textLength="27.81" lengthAdjust="spacingAndGlyphs">h</tspan></text>
<text class="r" y="1665.30" style="font-size:50.0px"><tspan x="2982.70" textLength="27.81" lengthAdjust="spacingAndGlyphs">b</tspan><tspan x="3010.80" textLength="26.65" lengthAdjust="spacingAndGlyphs">e</tspan><tspan x="3037.17" textLength="14.88" lengthAdjust="spacingAndGlyphs">t</tspan><tspan x="3055.44" textLength="34.21" lengthAdjust="spacingAndGlyphs">w</tspan><tspan x="3091.07" textLength="26.65" lengthAdjust="spacingAndGlyphs">e</tspan><tspan x="3117.52" textLength="26.65" lengthAdjust="spacingAndGlyphs">e</tspan><tspan x="3143.89" textLength="27.81" lengthAdjust="spacingAndGlyphs">n</tspan> <tspan x="3231.41" textLength="14.88" lengthAdjust="spacingAndGlyphs">t</tspan><tspan x="3247.50" textLength="17.93" lengthAdjust="spacingAndGlyphs">r</tspan><tspan x="3264.63" textLength="27.81" lengthAdjust="spacingAndGlyphs">u</tspan><tspan x="3292.22" textLength="26.65" lengthAdjust="spacingAndGlyphs">e</tspan> <tspan x="3378.13" textLength="25.82" lengthAdjust="spacingAndGlyphs">a</tspan><tspan x="3405.69" textLength="27.81" lengthAdjust="spacingAndGlyphs">n</tspan><tspan x="3433.24" textLength="14.88" lengthAdjust="spacingAndGlyphs">t</tspan><tspan x="3449.57" textLength="12.11" lengthAdjust="spacingAndGlyphs">i</tspan><tspan x="3461.70" textLength="27.81" lengthAdjust="spacingAndGlyphs">b</tspan><tspan x="3489.63" textLength="28.97" lengthAdjust="spacingAndGlyphs">o</tspan><tspan x="3518.16" textLength="27.81" lengthAdjust="spacingAndGlyphs">d</tspan><tspan x="3546.19" textLength="23.21" lengthAdjust="spacingAndGlyphs">y</tspan></text>
<text class="r" y="1721.75" style="font-size:50.0px"><tspan x="2985.70" textLength="14.88" lengthAdjust="spacingAndGlyphs">t</tspan><tspan x="3001.46" textLength="26.06" lengthAdjust="spacingAndGlyphs">a</tspan><tspan x="3028.93" textLength="17.93" lengthAdjust="spacingAndGlyphs">r</tspan><tspan x="3046.07" textLength="27.81" lengthAdjust="spacingAndGlyphs">g</tspan><tspan x="3073.70" textLength="26.65" lengthAdjust="spacingAndGlyphs">e</tspan><tspan x="3100.07" textLength="14.88" lengthAdjust="spacingAndGlyphs">t</tspan><tspan x="3117.44" textLength="23.91" lengthAdjust="spacingAndGlyphs">s</tspan> <tspan x="3192.94" textLength="24.00" lengthAdjust="spacingAndGlyphs">v</tspan><tspan x="3217.19" textLength="26.65" lengthAdjust="spacingAndGlyphs">e</tspan><tspan x="3243.11" textLength="17.76" lengthAdjust="spacingAndGlyphs">r</tspan><tspan x="3261.20" textLength="23.91" lengthAdjust="spacingAndGlyphs">s</tspan><tspan x="3285.90" textLength="27.81" lengthAdjust="spacingAndGlyphs">u</tspan><tspan x="3314.45" textLength="23.91" lengthAdjust="spacingAndGlyphs">s</tspan> <tspan x="3389.95" textLength="27.81" lengthAdjust="spacingAndGlyphs">p</tspan><tspan x="3417.74" textLength="17.93" lengthAdjust="spacingAndGlyphs">r</tspan><tspan x="3434.79" textLength="28.97" lengthAdjust="spacingAndGlyphs">o</tspan><tspan x="3462.84" textLength="14.88" lengthAdjust="spacingAndGlyphs">t</tspan><tspan x="3479.24" textLength="26.65" lengthAdjust="spacingAndGlyphs">e</tspan><tspan x="3505.59" textLength="12.17" lengthAdjust="spacingAndGlyphs">i</tspan><tspan x="3517.75" textLength="27.81" lengthAdjust="spacingAndGlyphs">n</tspan><tspan x="3546.34" textLength="23.91" lengthAdjust="spacingAndGlyphs">s</tspan></text>
<text class="r" y="1778.20" style="font-size:50.0px"><tspan x="2984.50" textLength="14.88" lengthAdjust="spacingAndGlyphs">t</tspan><tspan x="3000.82" textLength="27.81" lengthAdjust="spacingAndGlyphs">h</tspan><tspan x="3027.60" textLength="26.33" lengthAdjust="spacingAndGlyphs">a</tspan><tspan x="3055.44" textLength="14.88" lengthAdjust="spacingAndGlyphs">t</tspan> <tspan x="3084.14" textLength="27.81" lengthAdjust="spacingAndGlyphs">b</tspan><tspan x="3112.07" textLength="28.97" lengthAdjust="spacingAndGlyphs">o</tspan><tspan x="3140.60" textLength="27.81" lengthAdjust="spacingAndGlyphs">u</tspan><tspan x="3168.11" textLength="27.81" lengthAdjust="spacingAndGlyphs">n</tspan><tspan x="3195.66" textLength="27.81" lengthAdjust="spacingAndGlyphs">d</tspan> <tspan x="3236.17" textLength="14.88" lengthAdjust="spacingAndGlyphs">t</tspan><tspan x="3252.41" textLength="28.97" lengthAdjust="spacingAndGlyphs">o</tspan> <tspan x="3292.83" textLength="14.88" lengthAdjust="spacingAndGlyphs">t</tspan><tspan x="3309.15" textLength="27.81" lengthAdjust="spacingAndGlyphs">h</tspan><tspan x="3336.72" textLength="26.65" lengthAdjust="spacingAndGlyphs">e</tspan> <tspan x="3375.46" textLength="14.88" lengthAdjust="spacingAndGlyphs">t</tspan><tspan x="3391.20" textLength="26.11" lengthAdjust="spacingAndGlyphs">a</tspan><tspan x="3418.69" textLength="17.93" lengthAdjust="spacingAndGlyphs">r</tspan><tspan x="3435.83" textLength="27.81" lengthAdjust="spacingAndGlyphs">g</tspan><tspan x="3463.46" textLength="26.65" lengthAdjust="spacingAndGlyphs">e</tspan><tspan x="3489.84" textLength="14.88" lengthAdjust="spacingAndGlyphs">t</tspan><tspan x="3504.94" textLength="15.31" lengthAdjust="spacingAndGlyphs">.</tspan></text>
</svg>
</body></html>
